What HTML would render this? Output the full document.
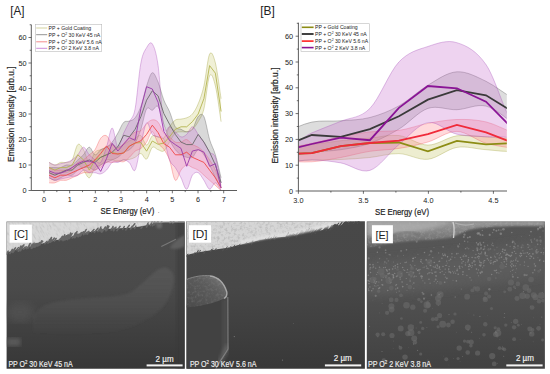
<!DOCTYPE html>
<html><head><meta charset="utf-8"><style>
html,body{margin:0;padding:0;background:#fff;width:550px;height:374px;overflow:hidden}
svg{display:block}
text{font-family:"Liberation Sans",sans-serif}
.tk{font-size:7.3px;fill:#222}
.at{font-size:8.4px;fill:#222;stroke:#222;stroke-width:0.2px}
.at2{font-size:8.6px;fill:#222;stroke:#222;stroke-width:0.2px}
.pl{font-size:11.9px;fill:#222}
.pl2{font-size:11.8px;fill:#222}
.lg{font-size:5.15px;fill:#222}
.sup{font-size:3.4px}
.cap{font-size:8.3px;fill:#f0f0f0;stroke:#f0f0f0;stroke-width:0.15px}
.csup{font-size:5px}
.sb{font-size:8.8px;fill:#f4f4f4;stroke:#f4f4f4;stroke-width:0.15px}
</style></head><body>
<svg width="550" height="374" viewBox="0 0 550 374">
<rect width="550" height="374" fill="#fff"/>
<defs><clipPath id="clipA"><rect x="31.6" y="20" width="210" height="170.5"/></clipPath>
<clipPath id="clipB"><rect x="298.8" y="20" width="208" height="170.8"/></clipPath></defs>
<g clip-path="url(#clipA)">
<path d="M49.1,162.4 C50.1,162.9 52.9,165.0 54.9,165.0 C56.8,165.0 58.7,162.9 60.6,162.4 C62.5,162.0 64.4,162.9 66.3,162.4 C68.2,162.0 70.1,162.9 72.1,159.9 C74.0,156.9 75.9,146.3 77.8,144.6 C79.7,142.9 81.6,146.7 83.5,149.7 C85.4,152.7 87.3,162.0 89.3,162.4 C91.2,162.9 93.1,154.4 95.0,152.2 C96.9,150.1 98.8,150.5 100.7,149.7 C102.6,148.8 104.5,148.0 106.5,147.2 C108.4,146.3 110.3,144.6 112.2,144.6 C114.1,144.6 116.0,147.2 117.9,147.2 C119.8,147.2 121.7,145.7 123.7,144.6 C125.6,143.5 127.5,141.8 129.4,140.8 C131.3,139.7 133.2,139.1 135.1,138.2 C137.0,137.4 138.9,134.5 140.9,135.7 C142.8,136.8 144.7,145.1 146.6,145.1 C148.5,145.2 150.4,137.3 152.3,135.9 C154.2,134.6 156.1,136.6 158.1,136.9 C160.0,137.3 161.9,139.7 163.8,138.0 C165.7,136.3 167.6,129.7 169.5,126.8 C171.4,123.8 173.3,121.4 175.3,120.1 C177.2,118.8 179.1,119.5 181.0,119.1 C182.9,118.7 184.8,118.7 186.7,117.8 C188.6,117.0 190.5,116.3 192.4,114.0 C194.3,111.7 196.3,108.5 198.2,103.8 C200.1,99.1 202.0,94.2 203.9,86.0 C205.8,77.7 207.7,57.9 209.6,54.1 C211.5,50.3 213.5,55.6 215.4,63.0 C217.3,70.4 220.1,92.8 221.1,98.7 L221.1,121.7 C220.1,115.7 217.3,93.6 215.4,86.0 C213.5,78.3 211.5,71.9 209.6,75.8 C207.7,79.6 205.8,101.2 203.9,108.9 C202.0,116.6 200.1,118.2 198.2,121.7 C196.3,125.1 194.3,127.6 192.4,129.3 C190.5,131.0 188.6,131.4 186.7,131.8 C184.8,132.3 182.9,131.6 181.0,131.8 C179.1,132.1 177.2,131.4 175.3,133.1 C173.3,134.8 171.4,139.1 169.5,142.1 C167.6,145.0 165.7,149.7 163.8,151.0 C161.9,152.2 160.0,150.3 158.1,149.7 C156.1,149.1 154.2,145.8 152.3,147.4 C150.4,149.0 148.5,158.1 146.6,159.1 C144.7,160.2 142.8,153.8 140.9,153.5 C138.9,153.2 137.0,156.4 135.1,157.3 C133.2,158.3 131.3,159.0 129.4,159.4 C127.5,159.8 125.6,159.6 123.7,159.9 C121.7,160.2 119.8,161.2 117.9,161.2 C116.0,161.2 114.1,160.1 112.2,159.9 C110.3,159.7 108.4,159.1 106.5,159.9 C104.5,160.8 102.6,163.7 100.7,165.0 C98.8,166.3 96.9,165.4 95.0,167.6 C93.1,169.7 91.2,177.3 89.3,177.8 C87.3,178.2 85.4,172.2 83.5,170.1 C81.6,168.0 79.7,165.0 77.8,165.0 C75.9,165.0 74.0,168.8 72.1,170.1 C70.1,171.4 68.2,172.2 66.3,172.7 C64.4,173.1 62.5,172.2 60.6,172.7 C58.7,173.1 56.8,175.2 54.9,175.2 C52.9,175.2 50.1,173.1 49.1,172.7 Z" fill="rgba(205,205,120,0.30)" stroke="none"/>
<path d="M49.1,162.4 C50.1,162.9 52.9,165.0 54.9,165.0 C56.8,165.0 58.7,162.9 60.6,162.4 C62.5,162.0 64.4,162.9 66.3,162.4 C68.2,162.0 70.1,162.9 72.1,159.9 C74.0,156.9 75.9,146.3 77.8,144.6 C79.7,142.9 81.6,146.7 83.5,149.7 C85.4,152.7 87.3,162.0 89.3,162.4 C91.2,162.9 93.1,154.4 95.0,152.2 C96.9,150.1 98.8,150.5 100.7,149.7 C102.6,148.8 104.5,148.0 106.5,147.2 C108.4,146.3 110.3,144.6 112.2,144.6 C114.1,144.6 116.0,147.2 117.9,147.2 C119.8,147.2 121.7,145.7 123.7,144.6 C125.6,143.5 127.5,141.8 129.4,140.8 C131.3,139.7 133.2,139.1 135.1,138.2 C137.0,137.4 138.9,134.5 140.9,135.7 C142.8,136.8 144.7,145.1 146.6,145.1 C148.5,145.2 150.4,137.3 152.3,135.9 C154.2,134.6 156.1,136.6 158.1,136.9 C160.0,137.3 161.9,139.7 163.8,138.0 C165.7,136.3 167.6,129.7 169.5,126.8 C171.4,123.8 173.3,121.4 175.3,120.1 C177.2,118.8 179.1,119.5 181.0,119.1 C182.9,118.7 184.8,118.7 186.7,117.8 C188.6,117.0 190.5,116.3 192.4,114.0 C194.3,111.7 196.3,108.5 198.2,103.8 C200.1,99.1 202.0,94.2 203.9,86.0 C205.8,77.7 207.7,57.9 209.6,54.1 C211.5,50.3 213.5,55.6 215.4,63.0 C217.3,70.4 220.1,92.8 221.1,98.7" fill="none" stroke="rgba(150,150,40,0.55)" stroke-width="0.6"/>
<path d="M221.1,121.7 C220.1,115.7 217.3,93.6 215.4,86.0 C213.5,78.3 211.5,71.9 209.6,75.8 C207.7,79.6 205.8,101.2 203.9,108.9 C202.0,116.6 200.1,118.2 198.2,121.7 C196.3,125.1 194.3,127.6 192.4,129.3 C190.5,131.0 188.6,131.4 186.7,131.8 C184.8,132.3 182.9,131.6 181.0,131.8 C179.1,132.1 177.2,131.4 175.3,133.1 C173.3,134.8 171.4,139.1 169.5,142.1 C167.6,145.0 165.7,149.7 163.8,151.0 C161.9,152.2 160.0,150.3 158.1,149.7 C156.1,149.1 154.2,145.8 152.3,147.4 C150.4,149.0 148.5,158.1 146.6,159.1 C144.7,160.2 142.8,153.8 140.9,153.5 C138.9,153.2 137.0,156.4 135.1,157.3 C133.2,158.3 131.3,159.0 129.4,159.4 C127.5,159.8 125.6,159.6 123.7,159.9 C121.7,160.2 119.8,161.2 117.9,161.2 C116.0,161.2 114.1,160.1 112.2,159.9 C110.3,159.7 108.4,159.1 106.5,159.9 C104.5,160.8 102.6,163.7 100.7,165.0 C98.8,166.3 96.9,165.4 95.0,167.6 C93.1,169.7 91.2,177.3 89.3,177.8 C87.3,178.2 85.4,172.2 83.5,170.1 C81.6,168.0 79.7,165.0 77.8,165.0 C75.9,165.0 74.0,168.8 72.1,170.1 C70.1,171.4 68.2,172.2 66.3,172.7 C64.4,173.1 62.5,172.2 60.6,172.7 C58.7,173.1 56.8,175.2 54.9,175.2 C52.9,175.2 50.1,173.1 49.1,172.7" fill="none" stroke="rgba(150,150,40,0.55)" stroke-width="0.6"/>
<path d="M49.1,167.6 C50.1,167.6 52.9,167.6 54.9,167.6 C56.8,167.6 58.7,168.0 60.6,167.6 C62.5,167.1 64.4,165.4 66.3,165.0 C68.2,164.6 70.1,165.8 72.1,165.0 C74.0,164.2 75.9,161.6 77.8,159.9 C79.7,158.2 81.6,156.9 83.5,154.8 C85.4,152.7 87.3,147.2 89.3,147.2 C91.2,147.2 93.1,154.4 95.0,154.8 C96.9,155.2 98.8,151.0 100.7,149.7 C102.6,148.4 104.5,148.4 106.5,147.2 C108.4,145.9 110.3,144.4 112.2,142.1 C114.1,139.7 116.0,136.4 117.9,133.1 C119.8,129.9 121.7,124.4 123.7,122.4 C125.6,120.4 127.5,121.9 129.4,121.1 C131.3,120.4 133.2,120.3 135.1,117.8 C137.0,115.4 138.9,111.7 140.9,106.4 C142.8,101.0 144.7,91.6 146.6,86.0 C148.5,80.3 150.4,73.3 152.3,72.7 C154.2,72.1 156.1,77.6 158.1,82.1 C160.0,86.7 161.9,95.1 163.8,100.0 C165.7,104.9 167.6,107.0 169.5,111.5 C171.4,115.9 173.3,123.8 175.3,126.8 C177.2,129.7 179.1,128.5 181.0,129.3 C182.9,130.2 184.8,131.8 186.7,131.8 C188.6,131.8 190.5,131.9 192.4,129.3 C194.3,126.8 196.3,118.7 198.2,116.6 C200.1,114.4 202.0,112.7 203.9,116.6 C205.8,120.4 207.7,133.1 209.6,139.5 C211.5,145.9 213.5,148.4 215.4,154.8 C217.3,161.2 220.1,173.9 221.1,177.8 L221.1,187.9 C220.1,186.2 217.3,181.6 215.4,177.8 C213.5,173.9 211.5,168.8 209.6,165.0 C207.7,161.2 205.8,157.4 203.9,154.8 C202.0,152.2 200.1,149.3 198.2,149.7 C196.3,150.1 194.3,156.1 192.4,157.3 C190.5,158.6 188.6,157.8 186.7,157.3 C184.8,156.9 182.9,156.1 181.0,154.8 C179.1,153.5 177.2,152.2 175.3,149.7 C173.3,147.1 171.4,143.8 169.5,139.5 C167.6,135.2 165.7,129.7 163.8,124.2 C161.9,118.7 160.0,108.9 158.1,106.6 C156.1,104.3 154.2,109.8 152.3,110.2 C150.4,110.6 148.5,105.7 146.6,108.9 C144.7,112.1 142.8,123.6 140.9,129.3 C138.9,135.0 137.0,139.9 135.1,143.3 C133.2,146.7 131.3,148.2 129.4,149.7 C127.5,151.2 125.6,151.0 123.7,152.2 C121.7,153.5 119.8,156.1 117.9,157.3 C116.0,158.6 114.1,159.1 112.2,159.9 C110.3,160.8 108.4,161.6 106.5,162.4 C104.5,163.3 102.6,163.7 100.7,165.0 C98.8,166.3 96.9,169.7 95.0,170.1 C93.1,170.5 91.2,168.0 89.3,167.6 C87.3,167.1 85.4,167.1 83.5,167.6 C81.6,168.0 79.7,168.8 77.8,170.1 C75.9,171.4 74.0,174.3 72.1,175.2 C70.1,176.0 68.2,174.8 66.3,175.2 C64.4,175.6 62.5,176.9 60.6,177.8 C58.7,178.6 56.8,180.3 54.9,180.3 C52.9,180.3 50.1,178.2 49.1,177.8 Z" fill="rgba(120,120,120,0.28)" stroke="none"/>
<path d="M49.1,167.6 C50.1,167.6 52.9,167.6 54.9,167.6 C56.8,167.6 58.7,168.0 60.6,167.6 C62.5,167.1 64.4,165.4 66.3,165.0 C68.2,164.6 70.1,165.8 72.1,165.0 C74.0,164.2 75.9,161.6 77.8,159.9 C79.7,158.2 81.6,156.9 83.5,154.8 C85.4,152.7 87.3,147.2 89.3,147.2 C91.2,147.2 93.1,154.4 95.0,154.8 C96.9,155.2 98.8,151.0 100.7,149.7 C102.6,148.4 104.5,148.4 106.5,147.2 C108.4,145.9 110.3,144.4 112.2,142.1 C114.1,139.7 116.0,136.4 117.9,133.1 C119.8,129.9 121.7,124.4 123.7,122.4 C125.6,120.4 127.5,121.9 129.4,121.1 C131.3,120.4 133.2,120.3 135.1,117.8 C137.0,115.4 138.9,111.7 140.9,106.4 C142.8,101.0 144.7,91.6 146.6,86.0 C148.5,80.3 150.4,73.3 152.3,72.7 C154.2,72.1 156.1,77.6 158.1,82.1 C160.0,86.7 161.9,95.1 163.8,100.0 C165.7,104.9 167.6,107.0 169.5,111.5 C171.4,115.9 173.3,123.8 175.3,126.8 C177.2,129.7 179.1,128.5 181.0,129.3 C182.9,130.2 184.8,131.8 186.7,131.8 C188.6,131.8 190.5,131.9 192.4,129.3 C194.3,126.8 196.3,118.7 198.2,116.6 C200.1,114.4 202.0,112.7 203.9,116.6 C205.8,120.4 207.7,133.1 209.6,139.5 C211.5,145.9 213.5,148.4 215.4,154.8 C217.3,161.2 220.1,173.9 221.1,177.8" fill="none" stroke="rgba(70,70,70,0.55)" stroke-width="0.6"/>
<path d="M221.1,187.9 C220.1,186.2 217.3,181.6 215.4,177.8 C213.5,173.9 211.5,168.8 209.6,165.0 C207.7,161.2 205.8,157.4 203.9,154.8 C202.0,152.2 200.1,149.3 198.2,149.7 C196.3,150.1 194.3,156.1 192.4,157.3 C190.5,158.6 188.6,157.8 186.7,157.3 C184.8,156.9 182.9,156.1 181.0,154.8 C179.1,153.5 177.2,152.2 175.3,149.7 C173.3,147.1 171.4,143.8 169.5,139.5 C167.6,135.2 165.7,129.7 163.8,124.2 C161.9,118.7 160.0,108.9 158.1,106.6 C156.1,104.3 154.2,109.8 152.3,110.2 C150.4,110.6 148.5,105.7 146.6,108.9 C144.7,112.1 142.8,123.6 140.9,129.3 C138.9,135.0 137.0,139.9 135.1,143.3 C133.2,146.7 131.3,148.2 129.4,149.7 C127.5,151.2 125.6,151.0 123.7,152.2 C121.7,153.5 119.8,156.1 117.9,157.3 C116.0,158.6 114.1,159.1 112.2,159.9 C110.3,160.8 108.4,161.6 106.5,162.4 C104.5,163.3 102.6,163.7 100.7,165.0 C98.8,166.3 96.9,169.7 95.0,170.1 C93.1,170.5 91.2,168.0 89.3,167.6 C87.3,167.1 85.4,167.1 83.5,167.6 C81.6,168.0 79.7,168.8 77.8,170.1 C75.9,171.4 74.0,174.3 72.1,175.2 C70.1,176.0 68.2,174.8 66.3,175.2 C64.4,175.6 62.5,176.9 60.6,177.8 C58.7,178.6 56.8,180.3 54.9,180.3 C52.9,180.3 50.1,178.2 49.1,177.8" fill="none" stroke="rgba(70,70,70,0.55)" stroke-width="0.6"/>
<path d="M49.1,167.6 C50.1,168.0 52.9,169.7 54.9,170.1 C56.8,170.5 58.7,170.1 60.6,170.1 C62.5,170.1 64.4,170.5 66.3,170.1 C68.2,169.7 70.1,168.8 72.1,167.6 C74.0,166.3 75.9,163.7 77.8,162.4 C79.7,161.2 81.6,161.2 83.5,159.9 C85.4,158.6 87.3,156.5 89.3,154.8 C91.2,153.1 93.1,152.5 95.0,149.7 C96.9,146.9 98.8,140.6 100.7,138.2 C102.6,135.9 104.5,134.6 106.5,135.7 C108.4,136.7 110.3,142.5 112.2,144.6 C114.1,146.7 116.0,148.6 117.9,148.4 C119.8,148.2 121.7,145.2 123.7,143.3 C125.6,141.4 127.5,138.8 129.4,136.9 C131.3,135.1 133.2,133.2 135.1,132.1 C137.0,131.0 138.9,132.0 140.9,130.6 C142.8,129.2 144.7,125.5 146.6,123.7 C148.5,121.9 150.4,120.1 152.3,119.9 C154.2,119.6 156.1,120.0 158.1,122.2 C160.0,124.4 161.9,130.7 163.8,133.1 C165.7,135.6 167.6,135.5 169.5,136.9 C171.4,138.4 173.3,141.2 175.3,142.1 C177.2,142.9 179.1,142.5 181.0,142.1 C182.9,141.6 184.8,139.1 186.7,139.5 C188.6,139.9 190.5,143.3 192.4,144.6 C194.3,145.9 196.3,145.9 198.2,147.2 C200.1,148.4 202.0,150.1 203.9,152.2 C205.8,154.4 207.7,156.9 209.6,159.9 C211.5,162.9 213.5,165.8 215.4,170.1 C217.3,174.3 220.1,182.8 221.1,185.4 L221.1,190.5 C220.1,189.7 217.3,187.1 215.4,185.4 C213.5,183.7 211.5,182.0 209.6,180.3 C207.7,178.6 205.8,176.9 203.9,175.2 C202.0,173.5 200.1,171.4 198.2,170.1 C196.3,168.8 194.3,168.4 192.4,167.6 C190.5,166.7 188.6,164.6 186.7,165.0 C184.8,165.4 182.9,167.5 181.0,170.1 C179.1,172.7 177.2,182.0 175.3,180.3 C173.3,178.6 171.4,165.1 169.5,159.9 C167.6,154.7 165.7,152.0 163.8,149.2 C161.9,146.4 160.0,146.3 158.1,143.3 C156.1,140.4 154.2,131.8 152.3,131.6 C150.4,131.4 148.5,139.2 146.6,142.1 C144.7,144.9 142.8,146.9 140.9,148.4 C138.9,150.0 137.0,149.7 135.1,151.2 C133.2,152.7 131.3,155.6 129.4,157.3 C127.5,159.1 125.6,161.0 123.7,161.7 C121.7,162.3 119.8,161.0 117.9,161.2 C116.0,161.3 114.1,162.2 112.2,162.4 C110.3,162.7 108.4,161.6 106.5,162.4 C104.5,163.3 102.6,166.3 100.7,167.6 C98.8,168.8 96.9,169.2 95.0,170.1 C93.1,170.9 91.2,172.2 89.3,172.7 C87.3,173.1 85.4,172.2 83.5,172.7 C81.6,173.1 79.7,174.3 77.8,175.2 C75.9,176.0 74.0,176.9 72.1,177.8 C70.1,178.6 68.2,179.9 66.3,180.3 C64.4,180.7 62.5,179.9 60.6,180.3 C58.7,180.7 56.8,182.4 54.9,182.8 C52.9,183.3 50.1,182.8 49.1,182.8 Z" fill="rgba(255,120,120,0.25)" stroke="none"/>
<path d="M49.1,167.6 C50.1,168.0 52.9,169.7 54.9,170.1 C56.8,170.5 58.7,170.1 60.6,170.1 C62.5,170.1 64.4,170.5 66.3,170.1 C68.2,169.7 70.1,168.8 72.1,167.6 C74.0,166.3 75.9,163.7 77.8,162.4 C79.7,161.2 81.6,161.2 83.5,159.9 C85.4,158.6 87.3,156.5 89.3,154.8 C91.2,153.1 93.1,152.5 95.0,149.7 C96.9,146.9 98.8,140.6 100.7,138.2 C102.6,135.9 104.5,134.6 106.5,135.7 C108.4,136.7 110.3,142.5 112.2,144.6 C114.1,146.7 116.0,148.6 117.9,148.4 C119.8,148.2 121.7,145.2 123.7,143.3 C125.6,141.4 127.5,138.8 129.4,136.9 C131.3,135.1 133.2,133.2 135.1,132.1 C137.0,131.0 138.9,132.0 140.9,130.6 C142.8,129.2 144.7,125.5 146.6,123.7 C148.5,121.9 150.4,120.1 152.3,119.9 C154.2,119.6 156.1,120.0 158.1,122.2 C160.0,124.4 161.9,130.7 163.8,133.1 C165.7,135.6 167.6,135.5 169.5,136.9 C171.4,138.4 173.3,141.2 175.3,142.1 C177.2,142.9 179.1,142.5 181.0,142.1 C182.9,141.6 184.8,139.1 186.7,139.5 C188.6,139.9 190.5,143.3 192.4,144.6 C194.3,145.9 196.3,145.9 198.2,147.2 C200.1,148.4 202.0,150.1 203.9,152.2 C205.8,154.4 207.7,156.9 209.6,159.9 C211.5,162.9 213.5,165.8 215.4,170.1 C217.3,174.3 220.1,182.8 221.1,185.4" fill="none" stroke="rgba(240,70,70,0.55)" stroke-width="0.6"/>
<path d="M221.1,190.5 C220.1,189.7 217.3,187.1 215.4,185.4 C213.5,183.7 211.5,182.0 209.6,180.3 C207.7,178.6 205.8,176.9 203.9,175.2 C202.0,173.5 200.1,171.4 198.2,170.1 C196.3,168.8 194.3,168.4 192.4,167.6 C190.5,166.7 188.6,164.6 186.7,165.0 C184.8,165.4 182.9,167.5 181.0,170.1 C179.1,172.7 177.2,182.0 175.3,180.3 C173.3,178.6 171.4,165.1 169.5,159.9 C167.6,154.7 165.7,152.0 163.8,149.2 C161.9,146.4 160.0,146.3 158.1,143.3 C156.1,140.4 154.2,131.8 152.3,131.6 C150.4,131.4 148.5,139.2 146.6,142.1 C144.7,144.9 142.8,146.9 140.9,148.4 C138.9,150.0 137.0,149.7 135.1,151.2 C133.2,152.7 131.3,155.6 129.4,157.3 C127.5,159.1 125.6,161.0 123.7,161.7 C121.7,162.3 119.8,161.0 117.9,161.2 C116.0,161.3 114.1,162.2 112.2,162.4 C110.3,162.7 108.4,161.6 106.5,162.4 C104.5,163.3 102.6,166.3 100.7,167.6 C98.8,168.8 96.9,169.2 95.0,170.1 C93.1,170.9 91.2,172.2 89.3,172.7 C87.3,173.1 85.4,172.2 83.5,172.7 C81.6,173.1 79.7,174.3 77.8,175.2 C75.9,176.0 74.0,176.9 72.1,177.8 C70.1,178.6 68.2,179.9 66.3,180.3 C64.4,180.7 62.5,179.9 60.6,180.3 C58.7,180.7 56.8,182.4 54.9,182.8 C52.9,183.3 50.1,182.8 49.1,182.8" fill="none" stroke="rgba(240,70,70,0.55)" stroke-width="0.6"/>
<path d="M49.1,162.4 C50.1,162.9 52.9,164.8 54.9,165.0 C56.8,165.2 58.7,164.2 60.6,163.7 C62.5,163.3 64.4,163.1 66.3,162.4 C68.2,161.8 70.1,161.2 72.1,159.9 C74.0,158.6 75.9,156.9 77.8,154.8 C79.7,152.7 81.6,147.2 83.5,147.2 C85.4,147.2 87.3,152.7 89.3,154.8 C91.2,156.9 93.1,158.6 95.0,159.9 C96.9,161.2 98.8,164.6 100.7,162.4 C102.6,160.3 104.5,152.9 106.5,147.2 C108.4,141.4 110.3,128.0 112.2,128.0 C114.1,128.0 116.0,146.3 117.9,147.2 C119.8,148.0 121.7,137.4 123.7,133.1 C125.6,128.9 127.5,125.7 129.4,121.7 C131.3,117.6 133.2,118.7 135.1,108.9 C137.0,99.1 138.9,73.2 140.9,63.0 C142.8,52.8 144.7,50.9 146.6,47.7 C148.5,44.5 150.4,40.9 152.3,43.9 C154.2,46.9 156.1,51.7 158.1,65.6 C160.0,79.4 161.9,116.5 163.8,126.8 C165.7,136.9 167.6,125.9 169.5,126.8 C171.4,127.6 173.3,130.2 175.3,131.8 C177.2,133.5 179.1,136.5 181.0,136.9 C182.9,137.4 184.8,136.1 186.7,134.4 C188.6,132.7 190.5,126.8 192.4,126.8 C194.3,126.8 196.3,131.8 198.2,134.4 C200.1,137.0 202.0,139.1 203.9,142.1 C205.8,145.0 207.7,149.7 209.6,152.2 C211.5,154.8 213.5,152.2 215.4,157.3 C217.3,162.4 220.1,178.6 221.1,182.8 L221.1,190.5 C220.1,189.2 217.3,183.1 215.4,182.8 C213.5,182.6 211.5,189.6 209.6,189.2 C207.7,188.8 205.8,183.1 203.9,180.3 C202.0,177.5 200.1,173.5 198.2,172.7 C196.3,171.8 194.3,172.4 192.4,175.2 C190.5,178.0 188.6,188.8 186.7,189.2 C184.8,189.7 182.9,181.4 181.0,177.8 C179.1,174.1 177.2,170.5 175.3,167.6 C173.3,164.6 171.4,164.6 169.5,159.9 C167.6,155.2 165.7,143.3 163.8,139.5 C161.9,135.7 160.0,137.8 158.1,136.9 C156.1,136.1 154.2,136.7 152.3,134.4 C150.4,132.1 148.5,121.2 146.6,122.9 C144.7,124.6 142.8,136.7 140.9,144.6 C138.9,152.5 137.0,167.1 135.1,170.1 C133.2,173.1 131.3,164.4 129.4,162.7 C127.5,161.0 125.6,159.9 123.7,159.9 C121.7,159.9 119.8,162.0 117.9,162.4 C116.0,162.9 114.1,161.2 112.2,162.4 C110.3,163.7 108.4,168.2 106.5,170.1 C104.5,172.0 102.6,173.5 100.7,173.9 C98.8,174.4 96.9,172.9 95.0,172.7 C93.1,172.4 91.2,173.1 89.3,172.7 C87.3,172.2 85.4,169.7 83.5,170.1 C81.6,170.5 79.7,174.1 77.8,175.2 C75.9,176.3 74.0,176.0 72.1,176.5 C70.1,176.9 68.2,177.3 66.3,177.8 C64.4,178.2 62.5,178.6 60.6,179.0 C58.7,179.5 56.8,180.5 54.9,180.3 C52.9,180.1 50.1,178.2 49.1,177.8 Z" fill="rgba(205,120,215,0.28)" stroke="none"/>
<path d="M49.1,162.4 C50.1,162.9 52.9,164.8 54.9,165.0 C56.8,165.2 58.7,164.2 60.6,163.7 C62.5,163.3 64.4,163.1 66.3,162.4 C68.2,161.8 70.1,161.2 72.1,159.9 C74.0,158.6 75.9,156.9 77.8,154.8 C79.7,152.7 81.6,147.2 83.5,147.2 C85.4,147.2 87.3,152.7 89.3,154.8 C91.2,156.9 93.1,158.6 95.0,159.9 C96.9,161.2 98.8,164.6 100.7,162.4 C102.6,160.3 104.5,152.9 106.5,147.2 C108.4,141.4 110.3,128.0 112.2,128.0 C114.1,128.0 116.0,146.3 117.9,147.2 C119.8,148.0 121.7,137.4 123.7,133.1 C125.6,128.9 127.5,125.7 129.4,121.7 C131.3,117.6 133.2,118.7 135.1,108.9 C137.0,99.1 138.9,73.2 140.9,63.0 C142.8,52.8 144.7,50.9 146.6,47.7 C148.5,44.5 150.4,40.9 152.3,43.9 C154.2,46.9 156.1,51.7 158.1,65.6 C160.0,79.4 161.9,116.5 163.8,126.8 C165.7,136.9 167.6,125.9 169.5,126.8 C171.4,127.6 173.3,130.2 175.3,131.8 C177.2,133.5 179.1,136.5 181.0,136.9 C182.9,137.4 184.8,136.1 186.7,134.4 C188.6,132.7 190.5,126.8 192.4,126.8 C194.3,126.8 196.3,131.8 198.2,134.4 C200.1,137.0 202.0,139.1 203.9,142.1 C205.8,145.0 207.7,149.7 209.6,152.2 C211.5,154.8 213.5,152.2 215.4,157.3 C217.3,162.4 220.1,178.6 221.1,182.8" fill="none" stroke="rgba(160,60,175,0.55)" stroke-width="0.6"/>
<path d="M221.1,190.5 C220.1,189.2 217.3,183.1 215.4,182.8 C213.5,182.6 211.5,189.6 209.6,189.2 C207.7,188.8 205.8,183.1 203.9,180.3 C202.0,177.5 200.1,173.5 198.2,172.7 C196.3,171.8 194.3,172.4 192.4,175.2 C190.5,178.0 188.6,188.8 186.7,189.2 C184.8,189.7 182.9,181.4 181.0,177.8 C179.1,174.1 177.2,170.5 175.3,167.6 C173.3,164.6 171.4,164.6 169.5,159.9 C167.6,155.2 165.7,143.3 163.8,139.5 C161.9,135.7 160.0,137.8 158.1,136.9 C156.1,136.1 154.2,136.7 152.3,134.4 C150.4,132.1 148.5,121.2 146.6,122.9 C144.7,124.6 142.8,136.7 140.9,144.6 C138.9,152.5 137.0,167.1 135.1,170.1 C133.2,173.1 131.3,164.4 129.4,162.7 C127.5,161.0 125.6,159.9 123.7,159.9 C121.7,159.9 119.8,162.0 117.9,162.4 C116.0,162.9 114.1,161.2 112.2,162.4 C110.3,163.7 108.4,168.2 106.5,170.1 C104.5,172.0 102.6,173.5 100.7,173.9 C98.8,174.4 96.9,172.9 95.0,172.7 C93.1,172.4 91.2,173.1 89.3,172.7 C87.3,172.2 85.4,169.7 83.5,170.1 C81.6,170.5 79.7,174.1 77.8,175.2 C75.9,176.3 74.0,176.0 72.1,176.5 C70.1,176.9 68.2,177.3 66.3,177.8 C64.4,178.2 62.5,178.6 60.6,179.0 C58.7,179.5 56.8,180.5 54.9,180.3 C52.9,180.1 50.1,178.2 49.1,177.8" fill="none" stroke="rgba(160,60,175,0.55)" stroke-width="0.6"/>
<path d="M49.1,167.6 L54.9,170.1 L60.6,167.6 L66.3,167.6 L72.1,165.0 L77.8,154.8 L83.5,159.9 L89.3,170.1 L95.0,159.9 L100.7,157.3 L106.5,154.8 L112.2,152.2 L117.9,154.0 L123.7,153.0 L129.4,146.1 L135.1,143.1 L140.9,142.6 L146.6,151.2 L152.3,141.0 L158.1,144.3 L163.8,143.1 L169.5,136.9 L175.3,129.3 L181.0,126.8 L186.7,126.8 L192.4,121.7 L198.2,114.0 L203.9,98.7 L209.6,65.6 L215.4,73.2 L221.1,111.5" fill="none" stroke="#b4b450" stroke-width="0.9" stroke-linejoin="round"/>
<path d="M49.1,172.7 L54.9,175.2 L60.6,172.7 L66.3,170.1 L72.1,170.1 L77.8,165.0 L83.5,162.4 L89.3,159.9 L95.0,162.4 L100.7,157.3 L106.5,154.8 L112.2,152.2 L117.9,146.6 L123.7,135.2 L129.4,136.9 L135.1,129.3 L140.9,116.6 L146.6,100.2 L152.3,90.8 L158.1,95.9 L163.8,113.5 L169.5,124.2 L175.3,134.4 L181.0,142.1 L186.7,144.6 L192.4,144.6 L198.2,134.4 L203.9,142.1 L209.6,152.2 L215.4,165.0 L221.1,182.8" fill="none" stroke="#6a6a6a" stroke-width="0.9" stroke-linejoin="round"/>
<path d="M49.1,175.2 L54.9,177.8 L60.6,175.2 L66.3,175.2 L72.1,172.7 L77.8,170.1 L83.5,167.6 L89.3,165.0 L95.0,159.9 L100.7,153.5 L106.5,145.9 L112.2,153.5 L117.9,154.0 L123.7,153.0 L129.4,146.1 L135.1,143.1 L140.9,140.8 L146.6,134.4 L152.3,125.2 L158.1,132.6 L163.8,143.6 L169.5,147.2 L175.3,154.8 L181.0,154.8 L186.7,152.2 L192.4,157.3 L198.2,159.9 L203.9,162.4 L209.6,170.1 L215.4,177.8 L221.1,187.9" fill="none" stroke="#f04848" stroke-width="0.9" stroke-linejoin="round"/>
<path d="M49.1,170.9 L54.9,173.2 L60.6,173.2 L66.3,170.9 L72.1,167.6 L77.8,163.7 L83.5,161.2 L89.3,161.2 L95.0,163.0 L100.7,171.4 L106.5,158.6 L112.2,143.3 L117.9,151.0 L123.7,144.1 L129.4,137.7 L135.1,140.3 L140.9,108.4 L146.6,86.7 L152.3,89.0 L158.1,102.3 L163.8,131.3 L169.5,140.5 L175.3,144.6 L181.0,148.4 L186.7,166.3 L192.4,151.0 L198.2,149.7 L203.9,152.2 L209.6,166.3 L215.4,163.7 L221.1,187.9" fill="none" stroke="#9a3aaa" stroke-width="0.9" stroke-linejoin="round"/>
</g>
<path d="M31.3,24.7 V190.5 H237" stroke="#333" stroke-width="0.8" fill="none"/>
<path d="M28.5,190.50 h2.8" stroke="#333" stroke-width="0.7"/>
<text x="26.6" y="193.00" text-anchor="end" class="tk">0</text>
<path d="M29.7,177.75 h1.6" stroke="#333" stroke-width="0.7"/>
<path d="M28.5,165.00 h2.8" stroke="#333" stroke-width="0.7"/>
<text x="26.6" y="167.50" text-anchor="end" class="tk">10</text>
<path d="M29.7,152.25 h1.6" stroke="#333" stroke-width="0.7"/>
<path d="M28.5,139.50 h2.8" stroke="#333" stroke-width="0.7"/>
<text x="26.6" y="142.00" text-anchor="end" class="tk">20</text>
<path d="M29.7,126.75 h1.6" stroke="#333" stroke-width="0.7"/>
<path d="M28.5,114.00 h2.8" stroke="#333" stroke-width="0.7"/>
<text x="26.6" y="116.50" text-anchor="end" class="tk">30</text>
<path d="M29.7,101.25 h1.6" stroke="#333" stroke-width="0.7"/>
<path d="M28.5,88.50 h2.8" stroke="#333" stroke-width="0.7"/>
<text x="26.6" y="91.00" text-anchor="end" class="tk">40</text>
<path d="M29.7,75.75 h1.6" stroke="#333" stroke-width="0.7"/>
<path d="M28.5,63.00 h2.8" stroke="#333" stroke-width="0.7"/>
<text x="26.6" y="65.50" text-anchor="end" class="tk">50</text>
<path d="M29.7,50.25 h1.6" stroke="#333" stroke-width="0.7"/>
<path d="M28.5,37.50 h2.8" stroke="#333" stroke-width="0.7"/>
<text x="26.6" y="40.00" text-anchor="end" class="tk">60</text>
<path d="M29.7,24.75 h1.6" stroke="#333" stroke-width="0.7"/>
<path d="M44.00,190.5 v2.8" stroke="#333" stroke-width="0.7"/>
<text x="44.00" y="201.7" text-anchor="middle" class="tk">0</text>
<path d="M56.84,190.5 v1.6" stroke="#333" stroke-width="0.7"/>
<path d="M69.67,190.5 v2.8" stroke="#333" stroke-width="0.7"/>
<text x="69.67" y="201.7" text-anchor="middle" class="tk">1</text>
<path d="M82.50,190.5 v1.6" stroke="#333" stroke-width="0.7"/>
<path d="M95.34,190.5 v2.8" stroke="#333" stroke-width="0.7"/>
<text x="95.34" y="201.7" text-anchor="middle" class="tk">2</text>
<path d="M108.18,190.5 v1.6" stroke="#333" stroke-width="0.7"/>
<path d="M121.01,190.5 v2.8" stroke="#333" stroke-width="0.7"/>
<text x="121.01" y="201.7" text-anchor="middle" class="tk">3</text>
<path d="M133.84,190.5 v1.6" stroke="#333" stroke-width="0.7"/>
<path d="M146.68,190.5 v2.8" stroke="#333" stroke-width="0.7"/>
<text x="146.68" y="201.7" text-anchor="middle" class="tk">4</text>
<path d="M159.52,190.5 v1.6" stroke="#333" stroke-width="0.7"/>
<path d="M172.35,190.5 v2.8" stroke="#333" stroke-width="0.7"/>
<text x="172.35" y="201.7" text-anchor="middle" class="tk">5</text>
<path d="M185.19,190.5 v1.6" stroke="#333" stroke-width="0.7"/>
<path d="M198.02,190.5 v2.8" stroke="#333" stroke-width="0.7"/>
<text x="198.02" y="201.7" text-anchor="middle" class="tk">6</text>
<path d="M210.86,190.5 v1.6" stroke="#333" stroke-width="0.7"/>
<path d="M223.69,190.5 v2.8" stroke="#333" stroke-width="0.7"/>
<text x="223.69" y="201.7" text-anchor="middle" class="tk">7</text>
<text x="100.6" y="214.3" class="at" textLength="53.7" lengthAdjust="spacingAndGlyphs">SE Energy (eV)</text>
<text x="158" y="214" class="at" style="font-size:4px;fill:#999">·</text>
<text transform="translate(13.6,161.9) rotate(-90)" class="at2" textLength="95.4" lengthAdjust="spacingAndGlyphs">Emission intensity [arb.u.]</text>
<text x="10.3" y="14.7" class="pl" textLength="14.2" lengthAdjust="spacingAndGlyphs">[A]</text>
<rect x="35.4" y="24.4" width="66.3" height="27.0" fill="#fff" stroke="#bbb" stroke-width="0.6"/>
<path d="M36.2,28.0 h11.0" stroke="#c8c888" stroke-width="0.8"/>
<text x="48.6" y="29.9" class="lg">PP + Gold Coating</text>
<path d="M36.2,34.7 h11.0" stroke="#777" stroke-width="0.8"/>
<text x="48.6" y="36.6" class="lg">PP + O<tspan class="sup" dy="-1.6">2</tspan><tspan dy="1.6"> 30 KeV 45 nA</tspan></text>
<path d="M36.2,41.8 h11.0" stroke="#f07070" stroke-width="0.8"/>
<text x="48.6" y="43.7" class="lg">PP + O<tspan class="sup" dy="-1.6">2</tspan><tspan dy="1.6"> 30 KeV 5.6 nA</tspan></text>
<path d="M36.2,48.3 h11.0" stroke="#c070d0" stroke-width="0.8"/>
<text x="48.6" y="50.2" class="lg">PP + O<tspan class="sup" dy="-1.6">2</tspan><tspan dy="1.6"> 2 KeV 3.8 nA</tspan></text>
<g clip-path="url(#clipB)">
<path d="M253.7,144.6 C258.5,145.0 273.1,147.1 282.8,147.1 C292.5,147.1 302.1,145.6 311.8,144.6 C321.5,143.5 331.1,141.8 340.8,140.7 C350.5,139.6 360.2,139.0 369.9,138.1 C379.6,137.2 389.2,134.4 398.9,135.5 C408.6,136.7 418.2,145.0 427.9,145.1 C437.5,145.1 447.2,137.2 456.9,135.8 C466.6,134.4 476.3,136.5 486.0,136.8 C495.7,137.2 505.3,139.6 515.0,137.9 C524.6,136.1 539.1,128.4 544.0,126.5 L544.0,142.0 C539.1,143.5 524.6,149.7 515.0,151.0 C505.3,152.3 495.7,150.3 486.0,149.7 C476.3,149.1 466.6,145.8 456.9,147.4 C447.2,149.0 437.5,158.2 427.9,159.3 C418.2,160.3 408.6,153.9 398.9,153.6 C389.2,153.3 379.6,156.5 369.9,157.5 C360.2,158.4 350.5,159.1 340.8,159.5 C331.1,160.0 321.5,159.7 311.8,160.0 C302.1,160.3 292.5,161.3 282.8,161.3 C273.1,161.3 258.5,160.3 253.7,160.0 Z" fill="rgba(200,200,110,0.32)" stroke="none"/>
<path d="M253.7,144.6 C258.5,145.0 273.1,147.1 282.8,147.1 C292.5,147.1 302.1,145.6 311.8,144.6 C321.5,143.5 331.1,141.8 340.8,140.7 C350.5,139.6 360.2,139.0 369.9,138.1 C379.6,137.2 389.2,134.4 398.9,135.5 C408.6,136.7 418.2,145.0 427.9,145.1 C437.5,145.1 447.2,137.2 456.9,135.8 C466.6,134.4 476.3,136.5 486.0,136.8 C495.7,137.2 505.3,139.6 515.0,137.9 C524.6,136.1 539.1,128.4 544.0,126.5" fill="none" stroke="rgba(150,150,40,0.5)" stroke-width="0.6"/>
<path d="M544.0,142.0 C539.1,143.5 524.6,149.7 515.0,151.0 C505.3,152.3 495.7,150.3 486.0,149.7 C476.3,149.1 466.6,145.8 456.9,147.4 C447.2,149.0 437.5,158.2 427.9,159.3 C418.2,160.3 408.6,153.9 398.9,153.6 C389.2,153.3 379.6,156.5 369.9,157.5 C360.2,158.4 350.5,159.1 340.8,159.5 C331.1,160.0 321.5,159.7 311.8,160.0 C302.1,160.3 292.5,161.3 282.8,161.3 C273.1,161.3 258.5,160.3 253.7,160.0" fill="none" stroke="rgba(150,150,40,0.5)" stroke-width="0.6"/>
<path d="M253.7,142.0 C258.5,140.5 273.1,136.3 282.8,132.9 C292.5,129.6 302.1,124.1 311.8,122.1 C321.5,120.1 331.1,121.6 340.8,120.8 C350.5,120.0 360.2,120.0 369.9,117.5 C379.6,115.0 389.2,111.2 398.9,105.9 C408.6,100.5 418.2,90.9 427.9,85.2 C437.5,79.5 447.2,72.4 456.9,71.8 C466.6,71.2 476.3,76.7 486.0,81.3 C495.7,86.0 505.3,94.5 515.0,99.4 C524.6,104.4 539.1,109.1 544.0,111.0 L544.0,139.4 C539.1,136.8 524.6,129.5 515.0,123.9 C505.3,118.4 495.7,108.5 486.0,106.1 C476.3,103.8 466.6,109.3 456.9,109.7 C447.2,110.1 437.5,105.2 427.9,108.4 C418.2,111.7 408.6,123.3 398.9,129.1 C389.2,134.9 379.6,139.8 369.9,143.3 C360.2,146.7 350.5,148.2 340.8,149.7 C331.1,151.2 321.5,151.0 311.8,152.3 C302.1,153.6 292.5,156.2 282.8,157.5 C273.1,158.8 258.5,159.6 253.7,160.0 Z" fill="rgba(110,110,110,0.23)" stroke="none"/>
<path d="M253.7,142.0 C258.5,140.5 273.1,136.3 282.8,132.9 C292.5,129.6 302.1,124.1 311.8,122.1 C321.5,120.1 331.1,121.6 340.8,120.8 C350.5,120.0 360.2,120.0 369.9,117.5 C379.6,115.0 389.2,111.2 398.9,105.9 C408.6,100.5 418.2,90.9 427.9,85.2 C437.5,79.5 447.2,72.4 456.9,71.8 C466.6,71.2 476.3,76.7 486.0,81.3 C495.7,86.0 505.3,94.5 515.0,99.4 C524.6,104.4 539.1,109.1 544.0,111.0" fill="none" stroke="rgba(60,60,60,0.5)" stroke-width="0.6"/>
<path d="M544.0,139.4 C539.1,136.8 524.6,129.5 515.0,123.9 C505.3,118.4 495.7,108.5 486.0,106.1 C476.3,103.8 466.6,109.3 456.9,109.7 C447.2,110.1 437.5,105.2 427.9,108.4 C418.2,111.7 408.6,123.3 398.9,129.1 C389.2,134.9 379.6,139.8 369.9,143.3 C360.2,146.7 350.5,148.2 340.8,149.7 C331.1,151.2 321.5,151.0 311.8,152.3 C302.1,153.6 292.5,156.2 282.8,157.5 C273.1,158.8 258.5,159.6 253.7,160.0" fill="none" stroke="rgba(60,60,60,0.5)" stroke-width="0.6"/>
<path d="M253.7,144.6 C258.5,145.2 273.1,148.6 282.8,148.4 C292.5,148.2 302.1,145.2 311.8,143.3 C321.5,141.3 331.1,138.7 340.8,136.8 C350.5,134.9 360.2,133.0 369.9,131.9 C379.6,130.8 389.2,131.8 398.9,130.4 C408.6,129.0 418.2,125.2 427.9,123.4 C437.5,121.6 447.2,119.8 456.9,119.5 C466.6,119.3 476.3,119.6 486.0,121.9 C495.7,124.1 505.3,130.5 515.0,132.9 C524.6,135.4 539.1,136.2 544.0,136.8 L544.0,160.0 C539.1,158.2 524.6,152.0 515.0,149.2 C505.3,146.4 495.7,146.2 486.0,143.3 C476.3,140.3 466.6,131.6 456.9,131.4 C447.2,131.2 437.5,139.1 427.9,142.0 C418.2,144.8 408.6,146.9 398.9,148.4 C389.2,150.0 379.6,149.8 369.9,151.3 C360.2,152.8 350.5,155.7 340.8,157.5 C331.1,159.2 321.5,161.2 311.8,161.8 C302.1,162.5 292.5,161.2 282.8,161.3 C273.1,161.5 258.5,162.4 253.7,162.6 Z" fill="rgba(255,120,130,0.28)" stroke="none"/>
<path d="M253.7,144.6 C258.5,145.2 273.1,148.6 282.8,148.4 C292.5,148.2 302.1,145.2 311.8,143.3 C321.5,141.3 331.1,138.7 340.8,136.8 C350.5,134.9 360.2,133.0 369.9,131.9 C379.6,130.8 389.2,131.8 398.9,130.4 C408.6,129.0 418.2,125.2 427.9,123.4 C437.5,121.6 447.2,119.8 456.9,119.5 C466.6,119.3 476.3,119.6 486.0,121.9 C495.7,124.1 505.3,130.5 515.0,132.9 C524.6,135.4 539.1,136.2 544.0,136.8" fill="none" stroke="rgba(240,70,80,0.5)" stroke-width="0.6"/>
<path d="M544.0,160.0 C539.1,158.2 524.6,152.0 515.0,149.2 C505.3,146.4 495.7,146.2 486.0,143.3 C476.3,140.3 466.6,131.6 456.9,131.4 C447.2,131.2 437.5,139.1 427.9,142.0 C418.2,144.8 408.6,146.9 398.9,148.4 C389.2,150.0 379.6,149.8 369.9,151.3 C360.2,152.8 350.5,155.7 340.8,157.5 C331.1,159.2 321.5,161.2 311.8,161.8 C302.1,162.5 292.5,161.2 282.8,161.3 C273.1,161.5 258.5,162.4 253.7,162.6" fill="none" stroke="rgba(240,70,80,0.5)" stroke-width="0.6"/>
<path d="M253.7,127.8 C258.5,131.0 273.1,146.3 282.8,147.1 C292.5,148.0 302.1,137.2 311.8,132.9 C321.5,128.6 331.1,125.4 340.8,121.3 C350.5,117.3 360.2,118.3 369.9,108.4 C379.6,98.5 389.2,72.3 398.9,62.0 C408.6,51.7 418.2,49.7 427.9,46.5 C437.5,43.3 447.2,39.6 456.9,42.7 C466.6,45.7 476.3,50.6 486.0,64.6 C495.7,78.6 505.3,116.2 515.0,126.5 C524.6,136.8 539.1,126.5 544.0,126.5 L544.0,160.0 C539.1,156.6 524.6,143.3 515.0,139.4 C505.3,135.5 495.7,137.7 486.0,136.8 C476.3,136.0 466.6,136.6 456.9,134.2 C447.2,131.9 437.5,120.9 427.9,122.6 C418.2,124.3 408.6,136.6 398.9,144.6 C389.2,152.5 379.6,167.3 369.9,170.4 C360.2,173.4 350.5,164.6 340.8,162.9 C331.1,161.2 321.5,160.1 311.8,160.0 C302.1,160.0 292.5,162.2 282.8,162.6 C273.1,163.1 258.5,162.6 253.7,162.6 Z" fill="rgba(200,110,205,0.30)" stroke="none"/>
<path d="M253.7,127.8 C258.5,131.0 273.1,146.3 282.8,147.1 C292.5,148.0 302.1,137.2 311.8,132.9 C321.5,128.6 331.1,125.4 340.8,121.3 C350.5,117.3 360.2,118.3 369.9,108.4 C379.6,98.5 389.2,72.3 398.9,62.0 C408.6,51.7 418.2,49.7 427.9,46.5 C437.5,43.3 447.2,39.6 456.9,42.7 C466.6,45.7 476.3,50.6 486.0,64.6 C495.7,78.6 505.3,116.2 515.0,126.5 C524.6,136.8 539.1,126.5 544.0,126.5" fill="none" stroke="rgba(160,70,180,0.55)" stroke-width="0.6"/>
<path d="M544.0,160.0 C539.1,156.6 524.6,143.3 515.0,139.4 C505.3,135.5 495.7,137.7 486.0,136.8 C476.3,136.0 466.6,136.6 456.9,134.2 C447.2,131.9 437.5,120.9 427.9,122.6 C418.2,124.3 408.6,136.6 398.9,144.6 C389.2,152.5 379.6,167.3 369.9,170.4 C360.2,173.4 350.5,164.6 340.8,162.9 C331.1,161.2 321.5,160.1 311.8,160.0 C302.1,160.0 292.5,162.2 282.8,162.6 C273.1,163.1 258.5,162.6 253.7,162.6" fill="none" stroke="rgba(160,70,180,0.55)" stroke-width="0.6"/>
<path d="M253.7,152.3 L282.8,154.1 L311.8,153.1 L340.8,146.1 L369.9,143.0 L398.9,142.5 L427.9,151.3 L456.9,140.9 L486.0,144.3 L515.0,143.0 L544.0,136.8" fill="none" stroke="#8c8c14" stroke-width="1.8" stroke-linejoin="miter"/>
<path d="M253.7,152.3 L282.8,146.6 L311.8,135.0 L340.8,136.8 L369.9,129.1 L398.9,116.2 L427.9,99.7 L456.9,90.1 L486.0,95.3 L515.0,113.1 L544.0,123.9" fill="none" stroke="#3a3a3a" stroke-width="1.8" stroke-linejoin="miter"/>
<path d="M253.7,153.6 L282.8,154.1 L311.8,153.1 L340.8,146.1 L369.9,143.0 L398.9,140.7 L427.9,134.2 L456.9,125.0 L486.0,132.4 L515.0,143.5 L544.0,147.1" fill="none" stroke="#f02a3a" stroke-width="1.8" stroke-linejoin="miter"/>
<path d="M253.7,143.3 L282.8,151.0 L311.8,144.0 L340.8,137.6 L369.9,140.2 L398.9,107.9 L427.9,86.0 L456.9,88.3 L486.0,101.7 L515.0,131.1 L544.0,140.4" fill="none" stroke="#8a1496" stroke-width="1.8" stroke-linejoin="miter"/>
</g>
<path d="M298.4,22.7 V191.0 H507" stroke="#333" stroke-width="0.8" fill="none"/>
<path d="M295.6,191.00 h2.8" stroke="#333" stroke-width="0.7"/>
<text x="293.1" y="193.50" text-anchor="end" class="tk">0</text>
<path d="M296.8,178.10 h1.6" stroke="#333" stroke-width="0.7"/>
<path d="M295.6,165.20 h2.8" stroke="#333" stroke-width="0.7"/>
<text x="293.1" y="167.70" text-anchor="end" class="tk">10</text>
<path d="M296.8,152.30 h1.6" stroke="#333" stroke-width="0.7"/>
<path d="M295.6,139.40 h2.8" stroke="#333" stroke-width="0.7"/>
<text x="293.1" y="141.90" text-anchor="end" class="tk">20</text>
<path d="M296.8,126.50 h1.6" stroke="#333" stroke-width="0.7"/>
<path d="M295.6,113.60 h2.8" stroke="#333" stroke-width="0.7"/>
<text x="293.1" y="116.10" text-anchor="end" class="tk">30</text>
<path d="M296.8,100.70 h1.6" stroke="#333" stroke-width="0.7"/>
<path d="M295.6,87.80 h2.8" stroke="#333" stroke-width="0.7"/>
<text x="293.1" y="90.30" text-anchor="end" class="tk">40</text>
<path d="M296.8,74.90 h1.6" stroke="#333" stroke-width="0.7"/>
<path d="M295.6,62.00 h2.8" stroke="#333" stroke-width="0.7"/>
<text x="293.1" y="64.50" text-anchor="end" class="tk">50</text>
<path d="M296.8,49.10 h1.6" stroke="#333" stroke-width="0.7"/>
<path d="M295.6,36.20 h2.8" stroke="#333" stroke-width="0.7"/>
<text x="293.1" y="38.70" text-anchor="end" class="tk">60</text>
<path d="M296.8,23.30 h1.6" stroke="#333" stroke-width="0.7"/>
<path d="M298.40,191.0 v2.8" stroke="#333" stroke-width="0.7"/>
<text x="298.40" y="202.5" text-anchor="middle" class="tk">3.0</text>
<path d="M330.90,191.0 v1.6" stroke="#333" stroke-width="0.7"/>
<path d="M363.40,191.0 v2.8" stroke="#333" stroke-width="0.7"/>
<text x="363.40" y="202.5" text-anchor="middle" class="tk">3.5</text>
<path d="M395.90,191.0 v1.6" stroke="#333" stroke-width="0.7"/>
<path d="M428.40,191.0 v2.8" stroke="#333" stroke-width="0.7"/>
<text x="428.40" y="202.5" text-anchor="middle" class="tk">4.0</text>
<path d="M460.90,191.0 v1.6" stroke="#333" stroke-width="0.7"/>
<path d="M493.40,191.0 v2.8" stroke="#333" stroke-width="0.7"/>
<text x="493.40" y="202.5" text-anchor="middle" class="tk">4.5</text>
<text x="375" y="214.6" class="at" textLength="54" lengthAdjust="spacingAndGlyphs">SE Energy (eV)</text>
<text transform="translate(278.3,163.5) rotate(-90)" class="at2" textLength="96" lengthAdjust="spacingAndGlyphs">Emission intensity [arb.u.]</text>
<text x="260.2" y="14.7" class="pl" textLength="14.6" lengthAdjust="spacingAndGlyphs">[B]</text>
<rect x="301.0" y="23.7" width="68.5" height="27.8" fill="#fff" stroke="#bbb" stroke-width="0.6"/>
<path d="M301.8,27.3 h11.8" stroke="#8c8c14" stroke-width="1.6"/>
<text x="315.0" y="29.2" class="lg">PP + Gold Coating</text>
<path d="M301.8,34.0 h11.8" stroke="#111" stroke-width="1.6"/>
<text x="315.0" y="35.9" class="lg">PP + O<tspan class="sup" dy="-1.6">2</tspan><tspan dy="1.6"> 30 KeV 45 nA</tspan></text>
<path d="M301.8,41.1 h11.8" stroke="#ff2020" stroke-width="1.6"/>
<text x="315.0" y="43.0" class="lg">PP + O<tspan class="sup" dy="-1.6">2</tspan><tspan dy="1.6"> 30 KeV 5.6 nA</tspan></text>
<path d="M301.8,47.6 h11.8" stroke="#8a1496" stroke-width="1.6"/>
<text x="315.0" y="49.5" class="lg">PP + O<tspan class="sup" dy="-1.6">2</tspan><tspan dy="1.6"> 2 KeV 3.8 nA</tspan></text>
<defs>
<filter id="streak" x="0" y="0" width="1" height="1" filterUnits="objectBoundingBox">
 <feTurbulence type="fractalNoise" baseFrequency="0.7 0.18" numOctaves="2" seed="5" result="t"/>
 <feColorMatrix in="t" type="matrix" values="0 0 0 0 0.5  0 0 0 0 0.5  0 0 0 0 0.5  0 0 0 -2.2 1.12" result="a"/>
 <feComposite in="a" in2="SourceGraphic" operator="in"/>
</filter>
<filter id="mott" x="0" y="0" width="1" height="1" filterUnits="objectBoundingBox">
 <feTurbulence type="fractalNoise" baseFrequency="0.35" numOctaves="3" seed="11" result="t"/>
 <feColorMatrix in="t" type="matrix" values="0 0 0 0 0.45  0 0 0 0 0.45  0 0 0 0 0.45  0 0 0 -1.8 1.0" result="a"/>
 <feComposite in="a" in2="SourceGraphic" operator="in"/>
</filter>
<filter id="b05"><feGaussianBlur stdDeviation="0.5"/></filter>
<filter id="b07"><feGaussianBlur stdDeviation="0.7"/></filter>
<filter id="b1"><feGaussianBlur stdDeviation="1"/></filter>
<filter id="b2"><feGaussianBlur stdDeviation="2"/></filter>
<filter id="b4"><feGaussianBlur stdDeviation="4"/></filter>
<filter id="b8"><feGaussianBlur stdDeviation="8"/></filter>
<clipPath id="cC"><rect x="6.6" y="221.4" width="178.2" height="147.4"/></clipPath>
<clipPath id="cD"><rect x="186.4" y="221.3" width="178.5" height="147.5"/></clipPath>
<clipPath id="cE"><rect x="366.8" y="221.5" width="178.1" height="147.3"/></clipPath>
</defs>
<g clip-path="url(#cC)">
<linearGradient id="bgC" gradientUnits="userSpaceOnUse" x1="0" y1="221" x2="0" y2="369"><stop offset="0" stop-color="#4d4d4d"/><stop offset="0.45" stop-color="#4a4a4a"/><stop offset="1" stop-color="#373737"/></linearGradient>
<rect x="0" y="215" width="190" height="160" fill="url(#bgC)"/>
<rect x="6.5" y="338" width="14" height="8" fill="#5a5a5a" filter="url(#b2)"/>
<linearGradient id="gC" x1="0" y1="0" x2="0" y2="1"><stop offset="0" stop-color="#5c5c5c" stop-opacity="0.7"/><stop offset="0.5" stop-color="#5a5a5a" stop-opacity="0.4"/><stop offset="1" stop-color="#5a5a5a" stop-opacity="0"/></linearGradient>
<rect x="176" y="221" width="10" height="150" fill="#3a3a3a" fill-opacity="0.5" filter="url(#b2)"/>
<path d="M33,316 C38,309 44,305 50,303.5 C62,300 85,298.5 104,297.3 C118,296.5 127,295 133,291 C141,285 148,278 153,273.5 C157,270 161,267.5 165,267.5 C170,268 174,273 174,279 C173,290 168,302 161.5,308.6 C155,315 148,319 140,323 C120,333 90,337 60,336 C48,335 40,334 33,333 Z" fill="url(#gC)" filter="url(#b1)"/>
<ellipse cx="20" cy="312" rx="14" ry="10" fill="#505050" filter="url(#b4)"/>
<path d="M161.3,246.5 L176,239.2" stroke="#787878" stroke-width="1.1" filter="url(#b05)"/>
<path d="M170,248 C172,243 178,238 184.8,235 L184.8,246 C180,249 175,250 170,248 Z" fill="#5e5e5e" filter="url(#b1)"/>
<circle cx="159.2" cy="225.5" r="3" fill="#6a6a6a" filter="url(#b1)"/>
<clipPath id="brC"><path d="M6.6,220.4 L178.0,220.4 L178.0,221.5 L165.0,221.9 L158.0,222.6 L150.0,224.5 L140.0,226.5 L130.0,227.8 L120.0,228.3 L110.0,228.8 L93.6,231.2 L82.7,233.5 L71.8,236.6 L60.9,239.3 L50.0,241.2 L38.7,244.5 L27.8,247.3 L16.9,249.5 L6.6,252.5 Z"/></clipPath>
<g clip-path="url(#brC)">
<rect x="6.6" y="220.4" width="171.4" height="60" fill="#d8d8d8"/>
<g transform="rotate(-30.0 92.3 241.4)"><rect x="-57.7" y="91.4" width="300.0" height="300.0" fill="#fff" filter="url(#streak)"/></g>
</g>
<path d="M61.5,239.6 l3.0,-3.5 M97.9,231.6 l1.2,-1.9 M12.4,251.8 l1.5,-1.7 M78.8,236.4 l1.5,-2.0 M113.6,230.8 l2.4,-3.6 M173.3,222.0 l3.2,-4.4 M30.9,247.0 l1.4,-2.9 M37.0,246.3 l2.6,-3.8 M99.9,230.6 l1.4,-1.8 M122.7,229.4 l1.6,-2.8 M83.8,234.1 l2.4,-4.6 M48.0,243.2 l1.7,-3.7 M131.0,228.4 l3.8,-4.6 M77.7,236.6 l1.4,-2.2 M12.8,252.2 l2.6,-4.4 M156.2,223.9 l2.4,-4.1 M105.6,230.7 l2.1,-4.9 M87.4,234.1 l1.1,-2.0 M116.9,230.7 l3.1,-4.3 M72.2,238.0 l1.1,-1.8 M35.0,246.0 l1.0,-2.0 M28.4,248.0 l1.5,-3.2 M20.0,250.1 l1.7,-3.8 M146.5,227.2 l1.7,-2.6 M67.5,239.6 l3.7,-4.5 M36.3,245.8 l1.6,-2.5 M107.0,230.0 l1.1,-1.7 M69.4,238.6 l2.7,-5.1 M94.3,232.5 l3.1,-3.6 M160.3,224.3 l2.4,-4.9 M73.4,237.2 l1.2,-2.1 M16.6,249.8 l1.8,-2.2 M64.3,238.7 l1.3,-1.6 M23.6,249.2 l0.9,-1.9 M111.3,229.3 l1.7,-2.5 M68.6,238.0 l2.0,-5.0 M85.8,233.9 l1.5,-1.8 M64.7,239.0 l3.3,-4.1 M9.9,253.5 l2.6,-3.2 M99.3,230.8 l1.6,-3.8 M154.0,225.1 l1.7,-2.5 M34.8,247.3 l1.8,-3.7 M62.7,239.6 l2.0,-4.9 M152.3,225.9 l2.4,-4.7 M44.8,243.8 l2.3,-2.6 M10.9,252.0 l1.4,-2.7 M170.2,223.0 l2.2,-5.3 M169.7,222.8 l1.8,-2.3 M39.9,244.9 l1.8,-4.1 M150.2,225.7 l2.0,-4.1 M20.7,250.4 l2.5,-5.1 M134.7,228.5 l1.2,-2.4 M63.0,240.6 l3.3,-4.9 M74.8,237.8 l3.1,-3.8 M27.9,247.9 l2.5,-5.1 M31.2,248.3 l2.9,-5.2 M66.0,239.2 l1.7,-1.9 M172.6,223.4 l1.6,-3.8 M80.3,236.0 l3.2,-4.2 M49.3,242.2 l1.5,-2.6 M50.7,242.3 l1.0,-2.3 M66.8,239.1 l1.8,-4.0 M78.2,236.8 l2.1,-3.4 M95.7,231.1 l2.3,-2.9 M6.7,254.2 l1.4,-2.3 M130.4,229.1 l1.7,-2.8 M101.3,231.9 l1.2,-2.1 M48.7,242.3 l2.7,-4.3 M102.3,231.7 l3.1,-4.7 M111.1,230.1 l1.9,-3.6 M83.7,234.7 l1.5,-3.6 M125.8,230.0 l3.5,-4.6 M101.9,232.1 l3.4,-4.2 M26.8,248.6 l1.4,-1.8 M18.7,250.8 l2.1,-4.7 M32.4,247.7 l2.9,-3.6 M157.5,225.0 l1.1,-2.7 M74.4,237.1 l2.6,-5.4 M33.7,246.8 l2.3,-3.3 M39.5,245.0 l3.2,-3.7 M101.0,231.2 l1.2,-1.7 M113.2,230.1 l0.9,-2.1 M141.1,228.4 l1.4,-1.9 M12.8,252.4 l2.0,-2.4 M78.4,236.7 l3.2,-4.2 M31.7,248.4 l2.0,-3.8 M21.4,248.9 l2.6,-4.0 M18.6,251.3 l2.0,-4.1 M20.5,250.8 l0.9,-2.1 M84.0,234.2 l1.7,-3.9 M51.9,241.3 l2.5,-3.3 M24.7,248.4 l1.4,-1.7 M59.5,240.4 l3.0,-4.1 M91.7,232.1 l2.3,-2.5 M49.0,241.7 l2.5,-4.2 M38.4,245.6 l3.7,-4.4 M146.5,226.4 l1.7,-3.6 M73.6,237.4 l1.8,-4.4 M64.9,240.2 l2.4,-4.2 M75.3,236.4 l1.4,-1.7 M18.1,250.9 l1.9,-2.4 M20.6,250.7 l2.6,-4.8 M54.4,241.2 l1.7,-2.7 M33.2,247.1 l1.2,-2.8 M172.9,223.2 l1.1,-2.7 M59.1,240.6 l1.1,-1.7 M87.4,233.7 l1.5,-2.4 M6.9,253.1 l1.3,-2.0 M13.1,250.8 l2.0,-2.6 M106.5,230.7 l2.4,-4.4" stroke="#666666" stroke-width="1.5" fill="none" stroke-linecap="round" filter="url(#b07)"/>
<rect x="6.5" y="221.6" width="178.2" height="1.2" fill="#bbb" fill-opacity="0.5"/>
</g>
<g clip-path="url(#cD)">
<linearGradient id="bgD" gradientUnits="userSpaceOnUse" x1="0" y1="221" x2="0" y2="369"><stop offset="0" stop-color="#484848"/><stop offset="0.45" stop-color="#474747"/><stop offset="1" stop-color="#383838"/></linearGradient>
<rect x="180" y="215" width="190" height="160" fill="url(#bgD)"/>
<path d="M186.5,305 L228,297 L228,349 C224,356 219,362 215,370 L186.5,370 Z" fill="#424242" filter="url(#b1)"/>
<path d="M222,300 L228,298 L228,349 C226,352 224,355 222,358 Z" fill="#4c4c4c" filter="url(#b1)"/>
<path d="M227.8,297 L228,349 C224,356 219,362 215.3,370" stroke="#7c7c7c" stroke-width="1.1" fill="none" filter="url(#b05)"/>
<path d="M228,345 C226,352 222,358 219,364" stroke="#8a8a8a" stroke-width="3" fill="none" filter="url(#b2)" opacity="0.6"/>
<linearGradient id="gCap" x1="0" y1="1" x2="1" y2="0"><stop offset="0" stop-color="#4a4a4a"/><stop offset="0.6" stop-color="#5c5c5c"/><stop offset="1" stop-color="#7a7a7a"/></linearGradient>
<path d="M186.5,279.5 C195,276 205,275 211,275.7 C218,276.5 224,282 226.8,292 C227.5,296 226,298 222,299.5 C212,304 198,306.5 186.5,307.5 Z" fill="url(#gCap)"/>
<path d="M186.5,279.5 C195,276 205,275 211,275.7 C218,276.5 224,282 226.8,292 C227.5,296 226,298 222,299.5 C212,304 198,306.5 186.5,307.5 Z" fill="#fff" filter="url(#mott)" opacity="0.25"/>
<path d="M210,276 C218,277 224,283 226.8,292 C227.3,295 226.5,297 224,298.5" stroke="#a8a8a8" stroke-width="1.4" fill="none" filter="url(#b05)"/>
<path d="M186.5,279.5 C195,276 203,275.2 210,275.7" stroke="#8a8a8a" stroke-width="0.9" fill="none" filter="url(#b05)"/>
<clipPath id="brD"><path d="M186.4,220.3 L362.0,220.3 L362.0,220.5 L355.0,221.5 L347.0,223.6 L340.0,225.5 L327.8,228.8 L320.0,230.5 L308.5,232.8 L300.0,234.5 L289.0,236.4 L278.2,237.3 L269.5,238.4 L261.8,239.6 L250.9,242.4 L246.0,243.2 L237.3,245.3 L229.6,247.5 L218.7,249.1 L207.8,250.7 L196.9,252.4 L186.4,255.0 Z"/></clipPath>
<g clip-path="url(#brD)">
<rect x="186.4" y="220.3" width="175.6" height="60" fill="#d6d6d6"/>
<g transform="rotate(0.0 274.2 241.3)"><rect x="124.2" y="91.3" width="300.0" height="300.0" fill="#fff" filter="url(#mott)"/></g>
</g>
<path d="M311.6,234.2 l1.3,-1.9 M358.9,221.6 l1.3,-2.6 M193.6,255.2 l1.5,-2.9 M314.8,233.4 l0.9,-1.5 M274.6,239.8 l1.2,-2.9 M288.5,238.6 l1.3,-2.6 M226.2,248.3 l1.0,-1.5 M204.4,253.2 l1.2,-2.3 M295.7,236.8 l1.6,-1.9 M326.0,231.0 l1.2,-2.2 M301.6,234.5 l1.7,-2.4 M198.9,252.8 l1.7,-2.4 M315.8,233.5 l1.3,-2.1 M270.0,240.0 l1.4,-2.7 M298.7,235.1 l1.0,-1.5 M316.3,232.0 l1.7,-2.0 M196.6,253.3 l1.3,-2.6 M304.5,234.4 l1.3,-2.2 M267.7,239.1 l1.9,-2.7 M357.6,223.3 l0.8,-1.3 M329.8,230.4 l1.4,-2.0 M222.8,250.7 l0.9,-1.7 M210.7,251.5 l2.1,-2.7 M330.0,229.5 l1.4,-2.9 M226.4,249.9 l1.6,-1.9 M186.5,256.2 l1.3,-2.0 M210.7,251.3 l0.8,-2.0 M186.1,256.7 l1.9,-2.5 M348.5,224.8 l1.9,-2.7 M251.3,243.3 l1.7,-3.1 M249.1,243.7 l1.3,-1.6 M203.9,253.4 l0.8,-1.9 M229.6,248.2 l1.5,-2.0 M251.6,244.5 l1.3,-3.0 M296.7,237.2 l1.6,-3.0 M312.2,232.4 l1.5,-2.5 M317.9,232.4 l1.3,-1.6 M348.6,223.6 l1.3,-2.0 M238.1,246.8 l2.0,-2.8 M301.1,235.1 l1.4,-2.2 M215.4,250.3 l0.7,-1.8 M273.3,238.7 l1.1,-3.1 M264.8,239.6 l1.2,-1.5 M245.9,243.6 l1.1,-1.6 M285.9,238.7 l1.6,-2.6 M258.5,241.7 l1.2,-1.9 M196.7,253.2 l2.1,-2.7 M274.2,239.3 l1.9,-2.6 M233.5,247.1 l1.2,-2.0 M353.3,223.8 l2.1,-2.5" stroke="#555555" stroke-width="0.9" fill="none" stroke-linecap="round" filter="url(#b07)"/>
<path d="M302.8,235.0 l2.5,-3.1 M331.9,228.2 l1.4,-2.1 M304.5,234.3 l4.2,-4.9 M347.7,224.4 l3.6,-3.5 M332.6,228.9 l2.7,-3.7 M335.4,227.3 l3.4,-4.3 M307.6,233.5 l3.9,-4.5 M338.9,227.2 l2.9,-4.5 M314.6,232.9 l2.3,-3.6 M350.9,223.2 l2.1,-2.2 M357.4,222.1 l3.4,-3.7 M323.0,230.7 l2.4,-3.0 M328.8,229.9 l2.9,-4.4 M349.2,224.5 l3.7,-3.6 M349.5,224.4 l3.8,-4.8 M338.5,226.6 l3.7,-4.5 M306.4,233.8 l3.1,-5.0 M291.6,237.2 l3.0,-2.9 M307.0,234.4 l4.4,-4.1 M331.1,228.5 l3.6,-3.9 M351.1,224.0 l2.4,-3.8 M308.2,233.4 l3.6,-3.3 M299.8,235.4 l3.5,-3.5 M288.2,237.8 l2.0,-3.2 M352.2,223.1 l2.8,-3.3 M333.3,228.4 l2.9,-3.7 M355.5,222.4 l2.5,-3.4 M302.8,234.7 l4.1,-4.9 M326.1,229.7 l2.6,-3.2 M286.5,237.7 l3.7,-3.4 M332.1,228.6 l3.5,-3.9 M338.0,227.3 l1.9,-1.8 M335.7,228.1 l2.3,-2.7 M329.5,229.2 l2.7,-2.9 M312.7,233.1 l2.5,-2.8 M342.9,225.2 l2.8,-3.9 M308.3,233.6 l4.0,-4.1 M299.1,235.6 l3.8,-3.7 M309.1,233.5 l3.8,-4.4 M349.2,223.7 l2.3,-3.0 M351.4,223.4 l2.4,-2.4 M324.7,230.2 l3.3,-4.7 M298.8,235.5 l3.5,-4.5 M345.5,224.9 l2.1,-2.2 M344.5,225.0 l2.6,-2.9 M316.5,232.1 l4.4,-4.3 M285.3,238.1 l3.2,-5.1 M317.6,232.4 l4.3,-4.4 M340.9,226.6 l3.3,-4.0 M306.7,234.0 l2.5,-2.3 M329.2,229.2 l4.2,-3.9 M352.8,223.3 l3.4,-5.2 M352.5,223.2 l1.5,-2.1 M297.9,235.7 l3.3,-4.0 M316.0,232.7 l3.3,-3.6 M303.9,235.1 l2.6,-3.6 M311.4,232.9 l2.7,-3.8 M297.8,236.2 l3.6,-5.1 M346.8,224.2 l2.8,-4.1 M288.7,237.2 l2.3,-2.8 M316.7,232.1 l4.2,-3.8 M289.1,237.0 l2.2,-2.0 M358.1,222.4 l1.8,-2.2 M308.7,233.6 l2.4,-3.1 M329.0,229.3 l2.2,-2.4 M294.3,236.5 l3.6,-4.0 M291.0,236.7 l2.5,-3.1 M343.7,225.4 l3.5,-4.5 M317.4,231.9 l2.7,-3.6 M316.5,232.4 l3.0,-3.1" stroke="#4a4a4a" stroke-width="1.1" fill="none" stroke-linecap="round" filter="url(#b05)" clip-path="url(#cD)"/>
<path d="M240,242.5 C252,239.5 265,236.5 289,234 C300,232 315,229 332,224.5" stroke="#e2e2e2" stroke-width="3" fill="none" filter="url(#b1)"/>
<g fill="#8a8a8a" fill-opacity="0.70"><circle cx="234.3" cy="336.6" r="0.67"/><circle cx="293.4" cy="323.4" r="0.40"/><circle cx="282.5" cy="360.1" r="0.65"/><circle cx="344.6" cy="365.0" r="0.47"/></g>
</g>
<g clip-path="url(#cE)">
<linearGradient id="bgE" gradientUnits="userSpaceOnUse" x1="0" y1="221" x2="0" y2="369"><stop offset="0" stop-color="#565656"/><stop offset="0.4" stop-color="#545454"/><stop offset="1" stop-color="#414141"/></linearGradient>
<rect x="360" y="215" width="190" height="160" fill="url(#bgE)"/>
<linearGradient id="gE" x1="0" y1="0" x2="0" y2="1"><stop offset="0" stop-color="#9a9a9a"/><stop offset="0.55" stop-color="#7c7c7c"/><stop offset="1" stop-color="#686868"/></linearGradient>
<path d="M366.8,221 H544.9 V226 C530,226 510,226 495,226.5 C480,227.5 470,229 463,232 C458,235 452,238 445,238.5 C435,239.5 425,240 418,240.5 C408,241 398,242 390,243.5 C382,245 374,246.5 366.8,247.5 Z" fill="url(#gE)" filter="url(#b1)"/>
<path d="M366.8,221 H450 C440,227 425,231 405,233 C390,234 375,235 366.8,236 Z" fill="#a8a8a8" filter="url(#b2)"/>
<path d="M366.8,221 H544.9 V226 C530,226 510,226 495,226.5 C480,227.5 470,229 463,232 C458,235 452,238 445,238.5 C435,239.5 425,240 418,240.5 C408,241 398,242 390,243.5 C382,245 374,246.5 366.8,247.5 Z" fill="#fff" filter="url(#mott)" opacity="0.5"/>
<path d="M392,236 C400,232 410,231 420,234" stroke="#5a5a5a" stroke-width="1.5" fill="none" filter="url(#b1)" opacity="0.7"/>
<g fill="#8e8e8e" fill-opacity="0.70"><circle cx="470.9" cy="228.0" r="0.92"/><circle cx="517.9" cy="248.5" r="1.08"/><circle cx="515.1" cy="243.9" r="0.87"/><circle cx="507.2" cy="225.0" r="1.13"/><circle cx="481.1" cy="247.9" r="1.02"/><circle cx="486.9" cy="227.3" r="0.70"/><circle cx="514.2" cy="242.2" r="0.59"/><circle cx="467.8" cy="237.6" r="0.97"/><circle cx="493.8" cy="229.8" r="0.98"/><circle cx="462.9" cy="231.8" r="0.87"/><circle cx="540.6" cy="240.8" r="1.21"/><circle cx="501.0" cy="230.1" r="0.70"/><circle cx="540.8" cy="242.3" r="0.75"/><circle cx="463.8" cy="237.0" r="1.04"/><circle cx="496.4" cy="230.7" r="1.03"/><circle cx="537.9" cy="229.9" r="0.53"/><circle cx="489.7" cy="234.9" r="1.05"/><circle cx="478.2" cy="244.7" r="1.09"/><circle cx="503.4" cy="229.3" r="1.28"/><circle cx="487.6" cy="245.3" r="0.68"/><circle cx="480.2" cy="243.8" r="0.74"/><circle cx="540.1" cy="236.9" r="0.65"/><circle cx="480.3" cy="234.8" r="1.03"/><circle cx="539.8" cy="227.8" r="0.81"/><circle cx="479.5" cy="249.3" r="0.61"/><circle cx="466.3" cy="225.6" r="0.81"/><circle cx="535.6" cy="247.0" r="1.09"/><circle cx="543.8" cy="248.2" r="0.76"/><circle cx="477.2" cy="248.3" r="1.10"/><circle cx="464.6" cy="241.3" r="0.80"/><circle cx="492.7" cy="232.6" r="0.64"/><circle cx="462.2" cy="231.3" r="0.78"/><circle cx="540.4" cy="227.2" r="1.27"/><circle cx="479.0" cy="233.3" r="1.16"/><circle cx="529.4" cy="235.2" r="0.54"/><circle cx="500.8" cy="233.7" r="1.24"/><circle cx="477.8" cy="233.5" r="1.22"/><circle cx="464.5" cy="234.7" r="1.15"/><circle cx="524.9" cy="225.1" r="0.53"/><circle cx="467.1" cy="247.9" r="0.71"/><circle cx="523.3" cy="247.4" r="0.77"/><circle cx="484.3" cy="248.9" r="0.99"/><circle cx="483.5" cy="242.6" r="0.75"/><circle cx="484.6" cy="224.1" r="1.10"/><circle cx="537.1" cy="240.5" r="1.25"/><circle cx="464.0" cy="230.1" r="0.88"/><circle cx="540.5" cy="248.8" r="0.81"/><circle cx="482.6" cy="235.2" r="0.89"/><circle cx="538.1" cy="228.8" r="1.14"/><circle cx="522.6" cy="245.4" r="1.12"/><circle cx="511.8" cy="232.5" r="0.76"/><circle cx="491.7" cy="244.3" r="0.56"/><circle cx="478.2" cy="243.6" r="0.70"/><circle cx="467.3" cy="224.9" r="0.94"/><circle cx="488.7" cy="249.5" r="1.21"/><circle cx="543.0" cy="230.9" r="0.57"/><circle cx="469.9" cy="237.0" r="1.07"/><circle cx="498.7" cy="230.1" r="0.83"/><circle cx="512.9" cy="241.5" r="1.10"/><circle cx="531.5" cy="241.3" r="0.60"/><circle cx="531.0" cy="231.6" r="0.95"/><circle cx="492.6" cy="243.2" r="0.66"/><circle cx="482.3" cy="230.4" r="0.62"/><circle cx="534.5" cy="239.0" r="0.76"/><circle cx="494.5" cy="249.8" r="0.91"/><circle cx="481.0" cy="245.0" r="1.02"/><circle cx="543.3" cy="226.7" r="0.88"/><circle cx="529.2" cy="245.9" r="1.23"/><circle cx="465.3" cy="231.6" r="0.60"/><circle cx="477.5" cy="249.3" r="0.97"/></g>
<path d="M453,222 C455,228 454,233 453.5,238" stroke="#d0d0d0" stroke-width="1.3" fill="none" filter="url(#b05)"/>
<path d="M455,223 C460,225 466,226 474,224" stroke="#b0b0b0" stroke-width="1.2" fill="none" filter="url(#b05)"/>
<path d="M366.8,262 C420,258 480,250 544.9,240 L544.9,275 C480,285 420,292 366.8,296 Z" fill="#5c5c5c" filter="url(#b4)"/>
<g fill="#9a9a9a" fill-opacity="0.6" filter="url(#b05)"><circle cx="531.7" cy="242.2" r="0.63"/><circle cx="413.8" cy="283.0" r="0.76"/><circle cx="534.4" cy="263.9" r="0.70"/><circle cx="406.3" cy="278.5" r="0.60"/><circle cx="392.9" cy="274.7" r="0.69"/><circle cx="482.7" cy="267.7" r="0.53"/><circle cx="370.0" cy="269.4" r="0.52"/><circle cx="422.9" cy="280.8" r="0.53"/><circle cx="508.0" cy="254.7" r="0.49"/><circle cx="437.6" cy="266.0" r="0.67"/><circle cx="480.5" cy="265.9" r="0.73"/><circle cx="440.1" cy="269.5" r="0.56"/><circle cx="422.1" cy="276.4" r="0.68"/><circle cx="430.9" cy="265.6" r="0.62"/><circle cx="520.1" cy="264.8" r="0.53"/><circle cx="496.1" cy="259.2" r="0.53"/><circle cx="369.0" cy="283.6" r="0.78"/><circle cx="439.5" cy="261.2" r="0.80"/><circle cx="449.1" cy="266.3" r="0.67"/><circle cx="480.8" cy="262.7" r="0.81"/><circle cx="383.7" cy="267.7" r="0.65"/><circle cx="393.7" cy="266.6" r="0.56"/><circle cx="459.7" cy="267.9" r="0.65"/><circle cx="509.6" cy="255.6" r="0.84"/><circle cx="402.7" cy="286.6" r="0.84"/><circle cx="453.0" cy="280.3" r="0.47"/><circle cx="531.0" cy="240.0" r="0.70"/><circle cx="513.1" cy="269.8" r="0.51"/><circle cx="506.3" cy="259.6" r="0.79"/><circle cx="513.9" cy="266.1" r="0.52"/><circle cx="406.4" cy="262.2" r="0.60"/><circle cx="389.7" cy="279.6" r="0.55"/><circle cx="495.6" cy="261.5" r="0.67"/><circle cx="501.3" cy="257.1" r="0.47"/><circle cx="515.5" cy="265.8" r="0.67"/><circle cx="478.4" cy="269.9" r="0.57"/><circle cx="441.9" cy="258.2" r="0.71"/><circle cx="446.6" cy="261.1" r="0.63"/><circle cx="372.1" cy="267.8" r="0.54"/><circle cx="502.4" cy="251.4" r="0.76"/><circle cx="448.7" cy="269.9" r="0.49"/><circle cx="390.6" cy="282.3" r="0.62"/><circle cx="384.1" cy="263.9" r="0.47"/><circle cx="480.0" cy="265.3" r="0.48"/><circle cx="497.1" cy="261.1" r="0.47"/><circle cx="456.7" cy="253.9" r="0.60"/><circle cx="535.4" cy="265.9" r="0.85"/><circle cx="496.8" cy="272.7" r="0.78"/><circle cx="402.1" cy="282.0" r="0.83"/><circle cx="529.2" cy="253.8" r="0.52"/><circle cx="506.8" cy="261.0" r="0.59"/><circle cx="501.1" cy="257.3" r="0.51"/><circle cx="525.8" cy="252.9" r="0.51"/><circle cx="456.4" cy="280.9" r="0.82"/><circle cx="404.7" cy="270.4" r="0.58"/><circle cx="374.5" cy="285.8" r="0.52"/><circle cx="396.4" cy="284.8" r="0.81"/><circle cx="397.7" cy="266.9" r="0.76"/><circle cx="388.3" cy="260.8" r="0.59"/><circle cx="521.6" cy="253.6" r="0.67"/><circle cx="470.1" cy="265.9" r="0.85"/><circle cx="478.8" cy="258.7" r="0.61"/><circle cx="508.4" cy="255.2" r="0.68"/><circle cx="431.4" cy="295.1" r="0.76"/><circle cx="445.8" cy="272.5" r="0.47"/><circle cx="512.3" cy="270.5" r="0.55"/><circle cx="480.5" cy="273.3" r="0.72"/><circle cx="423.0" cy="267.7" r="0.45"/><circle cx="373.9" cy="282.6" r="0.62"/><circle cx="458.2" cy="274.3" r="0.81"/><circle cx="391.2" cy="274.8" r="0.46"/><circle cx="368.5" cy="288.9" r="0.59"/><circle cx="386.7" cy="269.6" r="0.68"/><circle cx="471.7" cy="267.5" r="0.53"/><circle cx="477.8" cy="256.9" r="0.82"/><circle cx="410.9" cy="271.2" r="0.51"/><circle cx="384.9" cy="262.0" r="0.76"/><circle cx="438.7" cy="252.9" r="0.56"/><circle cx="370.0" cy="268.6" r="0.59"/><circle cx="481.6" cy="252.1" r="0.63"/><circle cx="532.9" cy="253.9" r="0.81"/><circle cx="375.7" cy="268.2" r="0.66"/><circle cx="439.5" cy="267.0" r="0.76"/><circle cx="370.2" cy="278.8" r="0.67"/><circle cx="533.6" cy="258.2" r="0.69"/><circle cx="457.2" cy="269.1" r="0.71"/><circle cx="511.2" cy="260.9" r="0.57"/><circle cx="376.5" cy="281.8" r="0.81"/><circle cx="505.8" cy="257.9" r="0.79"/><circle cx="499.2" cy="258.0" r="0.64"/><circle cx="498.5" cy="252.9" r="0.49"/><circle cx="408.9" cy="272.6" r="0.47"/><circle cx="427.1" cy="268.3" r="0.79"/><circle cx="493.3" cy="245.8" r="0.56"/><circle cx="465.5" cy="248.7" r="0.66"/><circle cx="414.7" cy="276.1" r="0.71"/><circle cx="537.9" cy="257.7" r="0.46"/><circle cx="413.8" cy="288.2" r="0.54"/><circle cx="498.9" cy="273.0" r="0.58"/><circle cx="522.9" cy="250.8" r="0.58"/><circle cx="410.1" cy="281.1" r="0.73"/><circle cx="485.1" cy="253.8" r="0.84"/><circle cx="450.6" cy="272.7" r="0.79"/><circle cx="444.9" cy="254.2" r="0.74"/><circle cx="468.4" cy="260.7" r="0.70"/><circle cx="381.7" cy="280.0" r="0.81"/><circle cx="393.4" cy="276.9" r="0.82"/><circle cx="428.7" cy="268.8" r="0.51"/><circle cx="373.1" cy="288.7" r="0.70"/><circle cx="490.7" cy="263.6" r="0.74"/><circle cx="379.6" cy="267.3" r="0.78"/><circle cx="512.2" cy="252.6" r="0.81"/><circle cx="379.6" cy="287.9" r="0.83"/><circle cx="386.9" cy="258.8" r="0.53"/><circle cx="387.7" cy="290.5" r="0.77"/><circle cx="479.6" cy="265.2" r="0.78"/><circle cx="479.2" cy="260.6" r="0.49"/><circle cx="501.3" cy="262.7" r="0.53"/><circle cx="424.2" cy="267.1" r="0.55"/><circle cx="417.7" cy="270.4" r="0.74"/><circle cx="432.8" cy="257.6" r="0.65"/><circle cx="517.8" cy="277.5" r="0.70"/><circle cx="373.5" cy="267.1" r="0.76"/><circle cx="429.0" cy="273.1" r="0.73"/><circle cx="462.7" cy="267.4" r="0.49"/><circle cx="512.3" cy="274.8" r="0.52"/><circle cx="368.2" cy="280.5" r="0.84"/><circle cx="368.8" cy="290.5" r="0.65"/><circle cx="454.5" cy="266.4" r="0.65"/><circle cx="429.1" cy="262.6" r="0.78"/><circle cx="413.9" cy="276.9" r="0.54"/><circle cx="491.1" cy="257.5" r="0.65"/><circle cx="387.3" cy="271.1" r="0.77"/><circle cx="490.7" cy="257.3" r="0.76"/><circle cx="478.5" cy="256.0" r="0.61"/><circle cx="524.7" cy="262.8" r="0.48"/><circle cx="524.4" cy="261.7" r="0.56"/><circle cx="526.6" cy="256.3" r="0.65"/><circle cx="434.8" cy="272.2" r="0.63"/><circle cx="461.6" cy="259.5" r="0.75"/><circle cx="500.5" cy="253.7" r="0.58"/><circle cx="395.3" cy="265.8" r="0.79"/><circle cx="484.5" cy="260.6" r="0.63"/><circle cx="504.1" cy="252.8" r="0.68"/><circle cx="390.2" cy="254.9" r="0.55"/><circle cx="401.7" cy="276.0" r="0.57"/><circle cx="491.8" cy="262.8" r="0.51"/><circle cx="411.6" cy="266.0" r="0.58"/><circle cx="459.9" cy="268.3" r="0.53"/><circle cx="539.6" cy="260.5" r="0.74"/><circle cx="385.9" cy="277.7" r="0.60"/><circle cx="541.2" cy="252.5" r="0.77"/><circle cx="497.1" cy="253.8" r="0.71"/><circle cx="386.8" cy="275.9" r="0.53"/><circle cx="436.3" cy="276.0" r="0.77"/><circle cx="490.0" cy="262.1" r="0.65"/><circle cx="479.3" cy="256.7" r="0.69"/><circle cx="439.2" cy="267.9" r="0.75"/><circle cx="527.8" cy="244.6" r="0.75"/><circle cx="442.1" cy="271.4" r="0.54"/><circle cx="495.1" cy="270.8" r="0.73"/><circle cx="518.0" cy="245.9" r="0.72"/><circle cx="480.9" cy="253.8" r="0.70"/><circle cx="385.2" cy="276.0" r="0.62"/><circle cx="505.7" cy="255.2" r="0.55"/><circle cx="442.6" cy="254.0" r="0.63"/><circle cx="477.4" cy="250.4" r="0.82"/><circle cx="400.2" cy="279.1" r="0.71"/><circle cx="505.0" cy="250.2" r="0.84"/><circle cx="374.7" cy="281.8" r="0.67"/><circle cx="396.3" cy="276.6" r="0.66"/><circle cx="385.8" cy="252.7" r="0.68"/><circle cx="463.2" cy="261.4" r="0.71"/><circle cx="513.9" cy="246.5" r="0.66"/><circle cx="440.2" cy="272.5" r="0.72"/><circle cx="437.1" cy="265.0" r="0.76"/><circle cx="389.5" cy="281.6" r="0.47"/><circle cx="416.3" cy="268.9" r="0.61"/><circle cx="370.3" cy="267.5" r="0.73"/><circle cx="430.0" cy="272.5" r="0.56"/><circle cx="407.5" cy="269.7" r="0.66"/><circle cx="406.5" cy="249.7" r="0.77"/><circle cx="437.0" cy="268.2" r="0.76"/><circle cx="510.5" cy="262.1" r="0.70"/><circle cx="450.6" cy="259.3" r="0.84"/><circle cx="430.2" cy="265.5" r="0.71"/><circle cx="512.1" cy="261.4" r="0.57"/><circle cx="464.5" cy="254.2" r="0.50"/><circle cx="514.7" cy="246.2" r="0.56"/><circle cx="434.2" cy="281.3" r="0.55"/><circle cx="443.0" cy="266.5" r="0.74"/><circle cx="417.5" cy="270.2" r="0.55"/><circle cx="421.1" cy="259.7" r="0.70"/><circle cx="484.0" cy="262.1" r="0.59"/><circle cx="531.5" cy="256.6" r="0.78"/><circle cx="527.4" cy="252.8" r="0.76"/><circle cx="392.7" cy="279.0" r="0.46"/><circle cx="370.0" cy="264.6" r="0.83"/><circle cx="483.4" cy="261.0" r="0.51"/><circle cx="409.1" cy="274.8" r="0.76"/><circle cx="429.0" cy="279.3" r="0.77"/><circle cx="397.6" cy="288.1" r="0.81"/><circle cx="475.1" cy="264.7" r="0.81"/><circle cx="506.7" cy="244.9" r="0.79"/><circle cx="402.7" cy="267.6" r="0.75"/><circle cx="445.2" cy="255.6" r="0.80"/><circle cx="465.7" cy="262.7" r="0.51"/><circle cx="454.8" cy="271.3" r="0.47"/><circle cx="450.2" cy="271.8" r="0.65"/><circle cx="463.0" cy="271.9" r="0.80"/><circle cx="369.2" cy="281.3" r="0.68"/><circle cx="485.1" cy="252.3" r="0.79"/><circle cx="434.0" cy="247.4" r="0.48"/><circle cx="480.1" cy="272.6" r="0.70"/><circle cx="373.0" cy="264.8" r="0.82"/><circle cx="426.2" cy="259.8" r="0.84"/><circle cx="457.9" cy="245.2" r="0.46"/><circle cx="494.4" cy="261.4" r="0.70"/><circle cx="427.6" cy="273.8" r="0.64"/><circle cx="460.5" cy="257.4" r="0.76"/><circle cx="405.1" cy="262.5" r="0.67"/><circle cx="513.5" cy="260.8" r="0.57"/><circle cx="513.7" cy="248.3" r="0.56"/><circle cx="457.1" cy="270.5" r="0.84"/><circle cx="483.2" cy="263.1" r="0.58"/><circle cx="420.7" cy="261.4" r="0.68"/><circle cx="479.7" cy="262.0" r="0.74"/><circle cx="523.9" cy="253.2" r="0.67"/><circle cx="376.7" cy="274.5" r="0.53"/><circle cx="530.2" cy="255.9" r="0.69"/><circle cx="483.8" cy="265.7" r="0.69"/><circle cx="476.5" cy="242.7" r="0.70"/><circle cx="490.6" cy="248.9" r="0.54"/><circle cx="485.4" cy="253.0" r="0.63"/><circle cx="502.2" cy="263.1" r="0.46"/><circle cx="504.3" cy="261.7" r="0.82"/><circle cx="483.4" cy="249.6" r="0.76"/><circle cx="466.9" cy="275.4" r="0.55"/><circle cx="421.2" cy="262.1" r="0.62"/><circle cx="481.0" cy="265.0" r="0.82"/><circle cx="377.6" cy="272.4" r="0.50"/><circle cx="510.6" cy="256.4" r="0.68"/><circle cx="529.7" cy="253.5" r="0.60"/><circle cx="472.2" cy="263.0" r="0.83"/><circle cx="540.6" cy="244.4" r="0.49"/><circle cx="481.4" cy="262.7" r="0.53"/><circle cx="394.7" cy="273.4" r="0.72"/><circle cx="389.4" cy="273.3" r="0.84"/><circle cx="383.5" cy="277.2" r="0.46"/><circle cx="494.6" cy="256.1" r="0.55"/><circle cx="497.1" cy="260.3" r="0.76"/><circle cx="493.6" cy="262.3" r="0.79"/><circle cx="496.4" cy="270.2" r="0.73"/><circle cx="449.1" cy="271.9" r="0.82"/><circle cx="412.7" cy="284.1" r="0.45"/><circle cx="370.6" cy="272.5" r="0.71"/><circle cx="511.9" cy="264.1" r="0.74"/><circle cx="397.2" cy="275.9" r="0.79"/><circle cx="453.6" cy="272.9" r="0.68"/><circle cx="445.2" cy="269.1" r="0.72"/><circle cx="393.5" cy="275.2" r="0.71"/><circle cx="478.8" cy="253.4" r="0.62"/><circle cx="435.9" cy="272.1" r="0.76"/><circle cx="467.8" cy="241.9" r="0.57"/><circle cx="378.7" cy="288.5" r="0.78"/><circle cx="426.4" cy="266.1" r="0.69"/><circle cx="540.0" cy="259.6" r="0.57"/><circle cx="443.4" cy="255.5" r="0.81"/><circle cx="434.3" cy="262.5" r="0.81"/><circle cx="510.1" cy="246.3" r="0.56"/><circle cx="368.3" cy="275.2" r="0.68"/><circle cx="511.6" cy="266.7" r="0.80"/><circle cx="375.4" cy="283.2" r="0.80"/><circle cx="468.7" cy="248.7" r="0.56"/><circle cx="517.8" cy="261.3" r="0.82"/><circle cx="429.0" cy="255.3" r="0.48"/><circle cx="465.4" cy="265.1" r="0.75"/><circle cx="532.0" cy="248.9" r="0.54"/><circle cx="474.8" cy="257.7" r="0.53"/><circle cx="412.8" cy="261.1" r="0.75"/><circle cx="507.3" cy="254.2" r="0.77"/><circle cx="503.9" cy="259.3" r="0.54"/><circle cx="470.0" cy="277.7" r="0.66"/><circle cx="451.9" cy="253.8" r="0.69"/><circle cx="401.3" cy="273.7" r="0.73"/><circle cx="431.9" cy="273.0" r="0.68"/><circle cx="438.8" cy="261.7" r="0.47"/><circle cx="543.5" cy="252.6" r="0.60"/><circle cx="386.7" cy="262.9" r="0.51"/><circle cx="473.1" cy="250.6" r="0.59"/><circle cx="459.4" cy="266.4" r="0.85"/><circle cx="520.4" cy="256.5" r="0.64"/><circle cx="467.8" cy="261.9" r="0.62"/><circle cx="534.6" cy="269.9" r="0.76"/><circle cx="512.1" cy="264.0" r="0.47"/><circle cx="403.4" cy="269.8" r="0.52"/><circle cx="382.7" cy="285.0" r="0.80"/><circle cx="448.7" cy="269.1" r="0.83"/><circle cx="528.1" cy="266.4" r="0.61"/><circle cx="389.1" cy="278.0" r="0.83"/><circle cx="413.3" cy="258.3" r="0.83"/><circle cx="485.9" cy="255.6" r="0.61"/><circle cx="446.9" cy="278.3" r="0.85"/><circle cx="407.0" cy="290.6" r="0.47"/><circle cx="413.0" cy="258.5" r="0.81"/><circle cx="515.4" cy="272.4" r="0.47"/><circle cx="506.4" cy="254.7" r="0.84"/><circle cx="377.8" cy="262.2" r="0.51"/><circle cx="500.9" cy="271.3" r="0.57"/><circle cx="472.1" cy="257.4" r="0.75"/><circle cx="386.6" cy="270.5" r="0.50"/><circle cx="452.7" cy="271.2" r="0.52"/><circle cx="410.0" cy="279.0" r="0.46"/><circle cx="494.2" cy="270.2" r="0.53"/><circle cx="374.3" cy="280.9" r="0.82"/><circle cx="520.5" cy="253.4" r="0.81"/><circle cx="392.6" cy="269.0" r="0.82"/><circle cx="516.2" cy="258.1" r="0.70"/><circle cx="447.6" cy="256.7" r="0.64"/><circle cx="478.6" cy="275.8" r="0.51"/><circle cx="407.0" cy="284.3" r="0.67"/><circle cx="393.5" cy="277.7" r="0.80"/><circle cx="414.9" cy="265.5" r="0.56"/><circle cx="515.8" cy="259.5" r="0.58"/><circle cx="397.5" cy="264.3" r="0.81"/><circle cx="388.1" cy="273.8" r="0.84"/><circle cx="378.0" cy="285.3" r="0.53"/><circle cx="452.0" cy="256.9" r="0.56"/><circle cx="413.4" cy="272.7" r="0.85"/><circle cx="543.7" cy="261.3" r="0.82"/><circle cx="385.2" cy="269.1" r="0.47"/><circle cx="495.9" cy="278.0" r="0.57"/><circle cx="540.2" cy="269.9" r="0.59"/><circle cx="392.7" cy="274.4" r="0.45"/><circle cx="514.5" cy="251.3" r="0.62"/><circle cx="528.5" cy="254.2" r="0.54"/><circle cx="468.6" cy="266.6" r="0.76"/><circle cx="493.2" cy="264.0" r="0.53"/><circle cx="382.0" cy="284.7" r="0.65"/><circle cx="416.2" cy="276.2" r="0.53"/><circle cx="475.8" cy="257.7" r="0.68"/><circle cx="403.6" cy="255.5" r="0.48"/><circle cx="497.0" cy="247.2" r="0.47"/><circle cx="510.7" cy="265.3" r="0.58"/><circle cx="516.2" cy="263.6" r="0.46"/><circle cx="528.2" cy="247.3" r="0.64"/><circle cx="521.5" cy="255.5" r="0.78"/><circle cx="432.6" cy="273.3" r="0.52"/><circle cx="433.3" cy="266.8" r="0.66"/><circle cx="446.5" cy="265.3" r="0.66"/><circle cx="389.3" cy="269.6" r="0.80"/><circle cx="424.5" cy="252.5" r="0.73"/><circle cx="435.1" cy="267.3" r="0.80"/><circle cx="535.9" cy="251.0" r="0.65"/><circle cx="458.3" cy="253.3" r="0.46"/><circle cx="538.3" cy="251.7" r="0.54"/><circle cx="400.1" cy="277.3" r="0.78"/><circle cx="373.3" cy="279.4" r="0.49"/><circle cx="491.0" cy="260.6" r="0.69"/><circle cx="469.5" cy="264.4" r="0.66"/><circle cx="491.7" cy="274.4" r="0.74"/><circle cx="376.0" cy="285.9" r="0.50"/><circle cx="454.9" cy="257.4" r="0.50"/><circle cx="439.4" cy="266.7" r="0.50"/><circle cx="472.2" cy="265.7" r="0.68"/><circle cx="499.4" cy="255.0" r="0.52"/><circle cx="513.4" cy="265.4" r="0.62"/><circle cx="515.8" cy="253.4" r="0.66"/><circle cx="437.6" cy="281.5" r="0.59"/><circle cx="410.3" cy="264.9" r="0.58"/><circle cx="444.7" cy="282.2" r="0.82"/><circle cx="511.4" cy="255.4" r="0.79"/><circle cx="377.4" cy="252.3" r="0.82"/><circle cx="411.9" cy="267.8" r="0.62"/><circle cx="479.4" cy="254.2" r="0.48"/><circle cx="444.2" cy="274.4" r="0.65"/><circle cx="371.7" cy="290.8" r="0.76"/><circle cx="532.9" cy="272.8" r="0.70"/><circle cx="510.4" cy="271.5" r="0.46"/><circle cx="480.9" cy="248.9" r="0.56"/><circle cx="487.4" cy="258.8" r="0.82"/><circle cx="477.3" cy="272.9" r="0.55"/><circle cx="459.6" cy="243.9" r="0.57"/><circle cx="421.8" cy="278.0" r="0.71"/><circle cx="389.2" cy="254.6" r="0.66"/><circle cx="415.2" cy="257.3" r="0.64"/><circle cx="462.0" cy="266.5" r="0.50"/><circle cx="419.7" cy="273.0" r="0.61"/><circle cx="418.7" cy="269.6" r="0.67"/><circle cx="515.8" cy="260.6" r="0.69"/><circle cx="468.4" cy="259.4" r="0.73"/><circle cx="449.1" cy="260.6" r="0.67"/><circle cx="475.9" cy="254.4" r="0.55"/><circle cx="407.0" cy="272.4" r="0.65"/><circle cx="435.4" cy="266.0" r="0.59"/><circle cx="519.7" cy="255.6" r="0.55"/><circle cx="466.0" cy="255.9" r="0.85"/><circle cx="420.0" cy="269.6" r="0.76"/><circle cx="395.9" cy="289.0" r="0.63"/><circle cx="378.9" cy="282.0" r="0.61"/><circle cx="445.4" cy="265.5" r="0.54"/><circle cx="536.8" cy="249.7" r="0.75"/><circle cx="395.2" cy="268.1" r="0.72"/><circle cx="476.5" cy="269.1" r="0.79"/><circle cx="512.5" cy="242.6" r="0.75"/><circle cx="501.7" cy="257.0" r="0.64"/><circle cx="506.1" cy="252.9" r="0.50"/><circle cx="521.3" cy="236.8" r="0.45"/><circle cx="502.8" cy="249.4" r="0.84"/><circle cx="468.7" cy="257.5" r="0.62"/><circle cx="505.9" cy="266.6" r="0.60"/><circle cx="447.6" cy="256.8" r="0.63"/><circle cx="495.3" cy="257.1" r="0.67"/><circle cx="435.7" cy="275.8" r="0.58"/><circle cx="506.5" cy="264.2" r="0.63"/><circle cx="400.4" cy="263.2" r="0.57"/><circle cx="393.5" cy="262.1" r="0.49"/><circle cx="529.9" cy="249.5" r="0.58"/><circle cx="516.4" cy="268.7" r="0.53"/><circle cx="443.1" cy="246.9" r="0.81"/><circle cx="369.9" cy="286.9" r="0.65"/><circle cx="530.0" cy="258.4" r="0.76"/><circle cx="462.8" cy="274.5" r="0.66"/><circle cx="488.6" cy="260.2" r="0.61"/><circle cx="431.0" cy="260.9" r="0.83"/><circle cx="487.1" cy="255.8" r="0.66"/><circle cx="385.4" cy="267.3" r="0.67"/><circle cx="469.0" cy="269.3" r="0.80"/><circle cx="537.7" cy="244.3" r="0.70"/><circle cx="543.3" cy="254.0" r="0.59"/></g>
<g fill="#8a8a8a" fill-opacity="0.60"><circle cx="461.3" cy="289.0" r="0.62"/><circle cx="424.0" cy="298.7" r="1.08"/><circle cx="458.2" cy="246.6" r="1.13"/><circle cx="489.4" cy="289.2" r="1.19"/><circle cx="524.3" cy="265.3" r="0.61"/><circle cx="419.0" cy="270.7" r="0.85"/><circle cx="401.1" cy="250.9" r="0.94"/><circle cx="474.2" cy="261.2" r="1.20"/><circle cx="480.0" cy="242.5" r="0.79"/><circle cx="506.6" cy="258.4" r="0.98"/><circle cx="368.7" cy="258.3" r="1.09"/><circle cx="471.2" cy="280.1" r="0.64"/><circle cx="455.6" cy="273.2" r="0.69"/><circle cx="481.8" cy="271.9" r="1.20"/><circle cx="469.1" cy="264.7" r="0.59"/><circle cx="395.6" cy="285.6" r="0.57"/><circle cx="385.6" cy="250.2" r="0.87"/><circle cx="512.9" cy="276.8" r="1.06"/><circle cx="378.9" cy="240.7" r="1.04"/><circle cx="424.8" cy="282.9" r="0.75"/><circle cx="397.8" cy="256.0" r="0.57"/><circle cx="527.1" cy="274.9" r="0.74"/><circle cx="447.2" cy="263.1" r="0.54"/><circle cx="524.7" cy="275.0" r="1.17"/><circle cx="445.4" cy="277.2" r="0.67"/><circle cx="375.7" cy="295.8" r="1.10"/><circle cx="423.4" cy="293.9" r="1.07"/><circle cx="421.4" cy="276.2" r="1.17"/><circle cx="455.2" cy="297.0" r="0.67"/><circle cx="436.6" cy="283.1" r="0.65"/><circle cx="422.4" cy="292.5" r="0.84"/><circle cx="507.5" cy="254.6" r="0.62"/><circle cx="431.1" cy="251.2" r="1.18"/><circle cx="419.2" cy="273.7" r="0.58"/><circle cx="461.9" cy="263.1" r="0.78"/><circle cx="379.5" cy="247.4" r="1.08"/><circle cx="429.8" cy="254.7" r="0.63"/><circle cx="417.9" cy="254.2" r="0.52"/><circle cx="484.9" cy="260.5" r="0.61"/><circle cx="492.2" cy="245.6" r="0.69"/><circle cx="515.0" cy="247.7" r="0.81"/><circle cx="515.2" cy="288.3" r="0.61"/><circle cx="430.1" cy="283.3" r="0.76"/><circle cx="536.7" cy="252.5" r="1.17"/><circle cx="456.9" cy="253.6" r="0.82"/><circle cx="391.0" cy="282.4" r="0.68"/><circle cx="526.3" cy="275.3" r="0.76"/><circle cx="411.3" cy="276.5" r="0.65"/><circle cx="521.5" cy="247.4" r="0.86"/><circle cx="463.5" cy="256.2" r="1.04"/><circle cx="435.7" cy="279.5" r="0.90"/><circle cx="422.7" cy="263.4" r="0.56"/><circle cx="399.2" cy="291.1" r="0.72"/><circle cx="484.6" cy="246.5" r="0.89"/><circle cx="431.6" cy="270.0" r="0.71"/><circle cx="379.6" cy="258.7" r="0.66"/><circle cx="390.2" cy="283.0" r="0.70"/><circle cx="439.0" cy="294.5" r="1.04"/><circle cx="523.4" cy="291.7" r="0.59"/><circle cx="416.7" cy="241.8" r="0.98"/></g>
<g fill="#6a6a6a" fill-opacity="0.6" filter="url(#b05)"><circle cx="484.8" cy="298.5" r="2.08"/><circle cx="484.0" cy="334.7" r="1.77"/><circle cx="517.0" cy="298.6" r="2.49"/><circle cx="400.0" cy="274.0" r="3.03"/><circle cx="497.2" cy="336.1" r="1.38"/><circle cx="375.0" cy="278.8" r="1.68"/><circle cx="421.3" cy="301.6" r="1.37"/><circle cx="422.7" cy="328.4" r="1.64"/><circle cx="515.7" cy="321.3" r="2.66"/><circle cx="412.8" cy="307.2" r="2.60"/><circle cx="429.4" cy="262.1" r="2.89"/><circle cx="504.7" cy="291.8" r="1.38"/><circle cx="518.3" cy="325.2" r="1.39"/><circle cx="411.0" cy="273.6" r="2.80"/><circle cx="405.0" cy="357.1" r="2.72"/><circle cx="383.2" cy="334.2" r="2.05"/><circle cx="499.6" cy="348.2" r="1.83"/><circle cx="383.8" cy="360.4" r="2.11"/><circle cx="531.7" cy="333.9" r="2.70"/><circle cx="514.1" cy="327.3" r="2.16"/><circle cx="377.6" cy="334.6" r="2.11"/><circle cx="458.1" cy="358.5" r="1.54"/><circle cx="502.1" cy="266.5" r="2.64"/><circle cx="509.8" cy="289.2" r="2.34"/><circle cx="538.6" cy="328.3" r="2.33"/><circle cx="411.9" cy="268.2" r="1.98"/><circle cx="440.4" cy="282.9" r="1.89"/><circle cx="392.0" cy="335.5" r="2.57"/><circle cx="409.9" cy="287.1" r="2.28"/><circle cx="446.3" cy="359.3" r="1.97"/><circle cx="420.7" cy="354.0" r="1.57"/><circle cx="467.1" cy="296.7" r="2.85"/><circle cx="464.5" cy="341.1" r="1.62"/><circle cx="485.3" cy="324.3" r="2.18"/><circle cx="502.8" cy="348.4" r="1.52"/><circle cx="418.9" cy="299.5" r="1.69"/><circle cx="378.6" cy="291.2" r="1.67"/><circle cx="491.5" cy="308.6" r="1.51"/><circle cx="425.1" cy="310.7" r="1.99"/><circle cx="397.6" cy="269.5" r="1.32"/><circle cx="542.6" cy="340.0" r="1.46"/><circle cx="494.2" cy="363.9" r="2.37"/><circle cx="387.1" cy="312.8" r="2.13"/><circle cx="401.4" cy="318.5" r="1.32"/><circle cx="529.8" cy="329.0" r="2.49"/><circle cx="532.6" cy="329.9" r="1.78"/><circle cx="411.3" cy="276.4" r="1.35"/><circle cx="504.3" cy="349.3" r="1.86"/><circle cx="400.7" cy="328.4" r="2.91"/><circle cx="531.1" cy="279.5" r="2.79"/><circle cx="514.1" cy="339.2" r="1.92"/><circle cx="400.5" cy="347.8" r="1.91"/><circle cx="432.9" cy="319.3" r="2.00"/><circle cx="514.3" cy="286.9" r="1.38"/><circle cx="467.8" cy="327.3" r="2.86"/><circle cx="492.2" cy="356.1" r="3.10"/><circle cx="455.0" cy="314.0" r="1.60"/><circle cx="420.7" cy="322.4" r="1.45"/><circle cx="489.1" cy="279.0" r="2.14"/><circle cx="538.7" cy="271.3" r="1.38"/><circle cx="391.4" cy="306.2" r="2.95"/><circle cx="406.5" cy="305.2" r="3.21"/><circle cx="396.5" cy="299.9" r="2.07"/><circle cx="391.2" cy="299.9" r="2.34"/><circle cx="391.6" cy="309.6" r="2.83"/><circle cx="401.0" cy="295.4" r="1.83"/><circle cx="428.2" cy="305.2" r="2.63"/><circle cx="427.7" cy="302.7" r="1.67"/><circle cx="427.0" cy="305.0" r="3.44"/><circle cx="440.1" cy="294.6" r="3.45"/><circle cx="438.1" cy="298.3" r="3.12"/><circle cx="438.4" cy="302.8" r="2.72"/><circle cx="442.7" cy="324.2" r="3.41"/><circle cx="436.4" cy="318.9" r="2.10"/><circle cx="438.1" cy="326.7" r="1.56"/><circle cx="448.4" cy="325.0" r="2.39"/><circle cx="452.6" cy="321.7" r="2.24"/><circle cx="439.6" cy="315.5" r="2.56"/><circle cx="474.5" cy="288.0" r="1.73"/><circle cx="485.3" cy="299.5" r="2.60"/><circle cx="489.1" cy="296.5" r="2.01"/><circle cx="486.1" cy="293.5" r="2.00"/><circle cx="472.4" cy="290.4" r="1.95"/><circle cx="477.4" cy="288.9" r="2.53"/><circle cx="517.9" cy="283.9" r="2.32"/><circle cx="525.8" cy="287.4" r="3.23"/><circle cx="511.0" cy="282.5" r="3.01"/><circle cx="533.8" cy="295.1" r="2.94"/><circle cx="529.1" cy="290.6" r="2.28"/><circle cx="527.2" cy="296.2" r="2.63"/><circle cx="535.5" cy="297.3" r="3.05"/><circle cx="539.1" cy="301.3" r="2.24"/><circle cx="543.0" cy="300.6" r="1.93"/><circle cx="532.1" cy="307.5" r="2.35"/><circle cx="541.4" cy="295.5" r="3.24"/><circle cx="522.6" cy="295.7" r="3.24"/><circle cx="414.9" cy="342.2" r="2.18"/><circle cx="410.8" cy="327.5" r="3.15"/><circle cx="414.2" cy="338.4" r="2.97"/><circle cx="419.1" cy="332.4" r="1.59"/><circle cx="407.8" cy="333.6" r="2.60"/><circle cx="411.0" cy="332.7" r="3.35"/><circle cx="467.9" cy="341.6" r="1.89"/><circle cx="459.2" cy="348.1" r="2.66"/><circle cx="470.9" cy="345.7" r="1.72"/><circle cx="471.2" cy="342.0" r="2.61"/><circle cx="467.7" cy="352.4" r="2.26"/><circle cx="477.6" cy="353.0" r="2.58"/><circle cx="381.0" cy="271.6" r="3.40"/><circle cx="390.5" cy="280.4" r="1.80"/><circle cx="372.8" cy="279.9" r="3.10"/><circle cx="388.7" cy="280.7" r="3.14"/><circle cx="382.4" cy="275.5" r="2.45"/><circle cx="391.3" cy="288.1" r="2.29"/><circle cx="505.8" cy="325.1" r="1.65"/><circle cx="498.0" cy="333.1" r="3.29"/><circle cx="498.5" cy="329.2" r="1.84"/><circle cx="495.7" cy="334.3" r="2.65"/><circle cx="495.7" cy="333.0" r="1.51"/><circle cx="495.2" cy="327.8" r="1.54"/></g>
<g fill="#8a8a8a" fill-opacity="0.60"><circle cx="448.9" cy="365.0" r="0.31"/><circle cx="393.7" cy="341.0" r="0.38"/><circle cx="416.1" cy="328.0" r="0.38"/><circle cx="468.1" cy="330.1" r="0.59"/><circle cx="542.6" cy="292.6" r="0.47"/><circle cx="503.7" cy="356.3" r="0.53"/><circle cx="479.4" cy="338.2" r="0.41"/><circle cx="417.6" cy="350.4" r="0.56"/><circle cx="533.2" cy="341.8" r="0.39"/><circle cx="502.3" cy="346.2" r="0.45"/><circle cx="479.8" cy="316.6" r="0.47"/><circle cx="439.4" cy="294.6" r="0.40"/><circle cx="424.9" cy="365.1" r="0.44"/><circle cx="432.6" cy="308.5" r="0.37"/><circle cx="429.5" cy="300.3" r="0.30"/><circle cx="521.3" cy="324.4" r="0.43"/><circle cx="468.1" cy="313.0" r="0.35"/><circle cx="379.7" cy="312.9" r="0.39"/><circle cx="495.9" cy="331.9" r="0.58"/><circle cx="427.9" cy="360.0" r="0.48"/><circle cx="382.1" cy="303.6" r="0.47"/><circle cx="541.8" cy="317.1" r="0.53"/><circle cx="443.4" cy="356.0" r="0.32"/><circle cx="453.3" cy="358.3" r="0.38"/><circle cx="413.3" cy="291.8" r="0.35"/><circle cx="415.2" cy="343.5" r="0.37"/><circle cx="438.3" cy="305.2" r="0.48"/><circle cx="520.1" cy="339.3" r="0.36"/><circle cx="497.2" cy="363.2" r="0.48"/><circle cx="382.0" cy="351.5" r="0.56"/><circle cx="428.0" cy="300.4" r="0.36"/><circle cx="462.5" cy="356.5" r="0.49"/><circle cx="530.4" cy="306.1" r="0.40"/><circle cx="499.9" cy="339.3" r="0.42"/><circle cx="487.5" cy="315.7" r="0.32"/><circle cx="440.9" cy="293.5" r="0.49"/><circle cx="426.9" cy="327.6" r="0.48"/><circle cx="413.2" cy="325.2" r="0.30"/><circle cx="530.9" cy="332.9" r="0.60"/><circle cx="377.9" cy="336.7" r="0.52"/><circle cx="425.9" cy="297.1" r="0.35"/><circle cx="393.1" cy="348.3" r="0.33"/><circle cx="511.3" cy="322.2" r="0.46"/><circle cx="471.6" cy="332.2" r="0.50"/><circle cx="473.9" cy="315.1" r="0.52"/><circle cx="413.4" cy="344.1" r="0.53"/><circle cx="504.6" cy="313.5" r="0.53"/><circle cx="540.0" cy="324.4" r="0.38"/><circle cx="460.1" cy="361.5" r="0.34"/><circle cx="369.6" cy="326.2" r="0.50"/><circle cx="504.3" cy="317.5" r="0.60"/><circle cx="408.2" cy="347.5" r="0.33"/><circle cx="372.9" cy="300.2" r="0.32"/><circle cx="456.3" cy="332.2" r="0.35"/><circle cx="533.4" cy="317.8" r="0.34"/><circle cx="399.2" cy="346.1" r="0.58"/><circle cx="396.5" cy="292.2" r="0.53"/><circle cx="410.7" cy="364.7" r="0.45"/><circle cx="480.0" cy="316.2" r="0.54"/><circle cx="449.0" cy="314.6" r="0.57"/></g>
</g>
<rect x="9.6" y="224.6" width="22.3" height="18.1" fill="#fff"/>
<text x="14.0" y="237.6" class="pl2" textLength="14.0" lengthAdjust="spacingAndGlyphs">[C]</text>
<rect x="188.9" y="225.2" width="22.2" height="17.5" fill="#fff"/>
<text x="192.4" y="238.2" class="pl2" textLength="15.0" lengthAdjust="spacingAndGlyphs">[D]</text>
<rect x="371.9" y="225.2" width="21.0" height="18.1" fill="#fff"/>
<text x="375.4" y="238.6" class="pl2" textLength="13.2" lengthAdjust="spacingAndGlyphs">[E]</text>
<text x="8.4" y="366.5" class="cap" textLength="64.3" lengthAdjust="spacingAndGlyphs">PP O<tspan class="csup" dy="-2.6">2</tspan><tspan dy="2.6"> 30 KeV 45 nA</tspan></text>
<text x="189.9" y="366.5" class="cap" textLength="66.5" lengthAdjust="spacingAndGlyphs">PP O<tspan class="csup" dy="-2.6">2</tspan><tspan dy="2.6"> 30 KeV 5.6 nA</tspan></text>
<text x="368.0" y="366.5" class="cap" textLength="63.0" lengthAdjust="spacingAndGlyphs">PP O<tspan class="csup" dy="-2.6">2</tspan><tspan dy="2.6"> 2 KeV 3.8 nA</tspan></text>
<rect x="146.6" y="364.4" width="36.0" height="2" fill="#f4f4f4"/>
<text x="155.6" y="361.9" class="sb" textLength="18" lengthAdjust="spacingAndGlyphs">2 µm</text>
<rect x="324.9" y="364.4" width="36.3" height="2" fill="#f4f4f4"/>
<text x="333.7" y="361.2" class="sb" textLength="18" lengthAdjust="spacingAndGlyphs">2 µm</text>
<rect x="506.3" y="364.4" width="36.3" height="2" fill="#f4f4f4"/>
<text x="515.9" y="361.2" class="sb" textLength="18" lengthAdjust="spacingAndGlyphs">2 µm</text>
</svg>
</body></html>
